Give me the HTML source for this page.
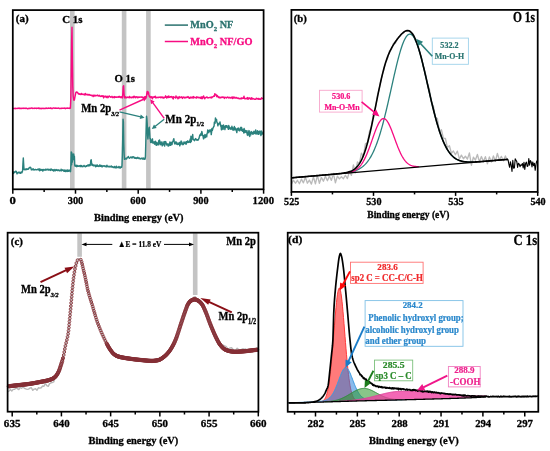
<!DOCTYPE html>
<html><head><meta charset="utf-8"><style>
html,body{margin:0;padding:0;background:#fff;}
svg{display:block;}
text{font-family:"Liberation Serif","Times New Roman",serif;}
</style></head><body>
<svg width="550" height="451" viewBox="0 0 550 451">
<rect x="70.0" y="10.799999999999999" width="4.6" height="177.8" fill="#c4c4c4"/>
<rect x="121.8" y="10.799999999999999" width="4.6" height="177.8" fill="#c4c4c4"/>
<rect x="146.1" y="10.799999999999999" width="4.6" height="177.8" fill="#c4c4c4"/>
<path d="M12.80,108.75 L13.20,108.37 L13.60,108.39 L14.00,108.43 L14.40,108.64 L14.80,108.39 L15.20,108.66 L15.60,108.22 L16.00,108.35 L16.40,108.35 L16.80,108.53 L17.20,108.57 L17.60,108.11 L18.00,108.22 L18.40,108.44 L18.80,108.26 L19.20,108.10 L19.60,108.56 L20.00,108.46 L20.40,108.46 L20.80,108.28 L21.20,108.55 L21.60,108.32 L22.00,108.56 L22.40,108.20 L22.80,108.21 L23.20,108.40 L23.60,108.23 L24.00,108.48 L24.40,108.40 L24.80,108.19 L25.20,108.37 L25.60,108.29 L26.00,108.52 L26.40,108.23 L26.80,108.27 L27.20,108.56 L27.60,108.75 L28.00,108.70 L28.40,108.35 L28.80,108.38 L29.20,108.61 L29.60,108.31 L30.00,108.16 L30.40,108.36 L30.80,108.41 L31.20,108.18 L31.60,108.03 L32.00,108.07 L32.40,108.45 L32.80,108.19 L33.20,108.30 L33.60,108.36 L34.00,108.43 L34.40,108.26 L34.80,108.41 L35.20,108.16 L35.60,108.25 L36.00,108.13 L36.40,108.52 L36.80,108.31 L37.20,108.18 L37.60,108.24 L38.00,108.27 L38.40,108.43 L38.80,108.02 L39.20,108.12 L39.60,108.23 L40.00,108.76 L40.40,108.47 L40.80,108.28 L41.20,108.42 L41.60,108.67 L42.00,108.25 L42.40,108.23 L42.80,108.51 L43.20,108.38 L43.60,108.41 L44.00,108.20 L44.40,108.63 L44.80,108.60 L45.20,108.39 L45.60,108.41 L46.00,107.92 L46.40,108.40 L46.80,108.25 L47.20,108.36 L47.60,108.41 L48.00,108.22 L48.40,107.98 L48.80,108.35 L49.20,108.15 L49.60,108.22 L50.00,108.17 L50.40,108.22 L50.80,107.86 L51.20,108.50 L51.60,108.32 L52.00,108.48 L52.40,108.63 L52.80,108.28 L53.20,107.95 L53.60,108.12 L54.00,108.06 L54.40,108.18 L54.80,108.29 L55.20,107.91 L55.60,108.33 L56.00,108.00 L56.40,108.33 L56.80,108.25 L57.20,108.21 L57.60,108.26 L58.00,108.17 L58.40,108.16 L58.80,107.96 L59.20,108.26 L59.60,108.60 L60.00,108.62 L60.40,108.50 L60.80,108.39 L61.20,108.14 L61.60,108.52 L62.00,108.25 L62.40,108.24 L62.80,108.20 L63.20,108.27 L63.60,108.17 L64.00,108.23 L64.40,108.05 L64.80,108.17 L65.20,108.65 L65.60,108.22 L66.00,108.19 L66.40,108.33 L66.80,108.36 L67.20,108.03 L67.60,108.19 L68.00,108.39 L68.40,108.27 L68.80,108.24 L69.20,108.49 L69.60,108.09 L70.00,108.22 L70.40,108.10 L70.80,99.14 L71.20,75.10 L71.60,42.40 L72.00,27.29 L72.40,60.18 L72.80,86.62 L73.20,96.26 L73.60,99.01 L74.00,100.31 L74.40,99.98 L74.80,97.74 L75.20,95.59 L75.60,93.75 L76.00,92.24 L76.40,92.38 L76.80,91.91 L77.20,92.28 L77.60,92.73 L78.00,92.90 L78.40,93.95 L78.80,93.87 L79.20,93.84 L79.60,94.29 L80.00,94.16 L80.40,93.93 L80.80,94.47 L81.20,93.95 L81.60,93.41 L82.00,94.49 L82.40,94.18 L82.80,94.39 L83.20,94.32 L83.60,94.56 L84.00,94.36 L84.40,94.88 L84.80,94.61 L85.20,93.37 L85.60,94.71 L86.00,94.02 L86.40,94.60 L86.80,94.62 L87.20,94.87 L87.60,94.31 L88.00,94.51 L88.40,95.02 L88.80,94.56 L89.20,94.42 L89.60,95.05 L90.00,95.19 L90.40,95.00 L90.80,95.37 L91.20,95.13 L91.60,95.65 L92.00,95.18 L92.40,95.49 L92.80,95.93 L93.20,96.61 L93.60,95.21 L94.00,95.46 L94.40,95.34 L94.80,96.02 L95.20,95.28 L95.60,95.57 L96.00,95.79 L96.40,95.44 L96.80,95.48 L97.20,95.70 L97.60,95.08 L98.00,95.37 L98.40,95.81 L98.80,96.06 L99.20,95.95 L99.60,95.34 L100.00,95.89 L100.40,96.42 L100.80,96.35 L101.20,96.12 L101.60,95.83 L102.00,96.46 L102.40,96.00 L102.80,95.79 L103.20,95.96 L103.60,97.90 L104.00,96.42 L104.40,96.81 L104.80,96.18 L105.20,96.77 L105.60,96.18 L106.00,96.38 L106.40,97.46 L106.80,96.80 L107.20,96.31 L107.60,96.50 L108.00,97.66 L108.40,97.07 L108.80,96.41 L109.20,95.93 L109.60,96.54 L110.00,96.68 L110.40,96.74 L110.80,97.24 L111.20,96.87 L111.60,97.09 L112.00,96.35 L112.40,97.16 L112.80,97.68 L113.20,97.18 L113.60,97.00 L114.00,96.99 L114.40,97.67 L114.80,96.61 L115.20,96.96 L115.60,97.22 L116.00,97.36 L116.40,96.91 L116.80,97.23 L117.20,97.02 L117.60,97.20 L118.00,97.12 L118.40,96.74 L118.80,97.21 L119.20,96.36 L119.60,96.86 L120.00,97.16 L120.40,97.54 L120.80,96.85 L121.20,97.36 L121.60,96.87 L122.00,97.75 L122.40,97.99 L122.80,93.97 L123.20,86.72 L123.60,85.69 L124.00,93.21 L124.40,97.10 L124.80,97.92 L125.20,96.77 L125.60,97.72 L126.00,97.28 L126.40,97.86 L126.80,97.37 L127.20,97.03 L127.60,97.41 L128.00,97.59 L128.40,97.31 L128.80,97.49 L129.20,97.09 L129.60,96.44 L130.00,97.65 L130.40,97.57 L130.80,97.35 L131.20,97.31 L131.60,97.70 L132.00,97.10 L132.40,97.00 L132.80,97.20 L133.20,97.75 L133.60,96.72 L134.00,96.19 L134.40,97.01 L134.80,96.83 L135.20,97.77 L135.60,97.22 L136.00,96.74 L136.40,97.11 L136.80,96.76 L137.20,97.72 L137.60,97.07 L138.00,97.40 L138.40,97.52 L138.80,96.97 L139.20,97.37 L139.60,97.21 L140.00,97.00 L140.40,97.02 L140.80,97.23 L141.20,97.21 L141.60,96.97 L142.00,97.02 L142.40,97.62 L142.80,97.25 L143.20,97.49 L143.60,97.59 L144.00,97.31 L144.40,97.94 L144.80,96.65 L145.20,97.24 L145.60,96.71 L146.00,97.42 L146.40,96.68 L146.80,93.71 L147.20,91.57 L147.60,91.53 L148.00,93.91 L148.40,92.09 L148.80,94.42 L149.20,96.06 L149.60,96.86 L150.00,97.01 L150.40,97.70 L150.80,96.40 L151.20,97.55 L151.60,96.89 L152.00,97.68 L152.40,98.77 L152.80,96.94 L153.20,97.45 L153.60,96.94 L154.00,96.93 L154.40,96.67 L154.80,97.29 L155.20,96.19 L155.60,97.71 L156.00,97.24 L156.40,97.72 L156.80,97.31 L157.20,97.26 L157.60,97.53 L158.00,97.72 L158.40,97.16 L158.80,97.20 L159.20,97.24 L159.60,97.33 L160.00,96.94 L160.40,97.71 L160.80,97.14 L161.20,97.48 L161.60,96.97 L162.00,97.44 L162.40,97.46 L162.80,97.13 L163.20,98.11 L163.60,97.45 L164.00,98.01 L164.40,97.68 L164.80,97.04 L165.20,97.15 L165.60,95.86 L166.00,97.33 L166.40,97.32 L166.80,98.05 L167.20,96.58 L167.60,97.21 L168.00,96.42 L168.40,97.46 L168.80,96.03 L169.20,97.03 L169.60,97.23 L170.00,97.43 L170.40,96.75 L170.80,96.62 L171.20,96.90 L171.60,96.51 L172.00,96.94 L172.40,97.97 L172.80,96.92 L173.20,98.92 L173.60,96.80 L174.00,97.47 L174.40,97.23 L174.80,97.33 L175.20,97.59 L175.60,98.07 L176.00,95.87 L176.40,97.42 L176.80,96.99 L177.20,97.62 L177.60,97.29 L178.00,98.77 L178.40,97.38 L178.80,98.10 L179.20,96.61 L179.60,97.29 L180.00,97.77 L180.40,97.28 L180.80,97.11 L181.20,97.33 L181.60,96.89 L182.00,97.49 L182.40,98.42 L182.80,97.91 L183.20,97.02 L183.60,97.11 L184.00,97.31 L184.40,97.88 L184.80,97.15 L185.20,97.21 L185.60,97.84 L186.00,97.84 L186.40,97.35 L186.80,97.06 L187.20,96.89 L187.60,97.23 L188.00,96.63 L188.40,97.82 L188.80,97.28 L189.20,97.72 L189.60,98.28 L190.00,98.01 L190.40,97.08 L190.80,97.90 L191.20,98.02 L191.60,97.26 L192.00,97.18 L192.40,97.52 L192.80,96.93 L193.20,98.16 L193.60,96.61 L194.00,97.13 L194.40,97.47 L194.80,97.49 L195.20,97.65 L195.60,97.70 L196.00,97.50 L196.40,98.05 L196.80,96.74 L197.20,97.59 L197.60,97.31 L198.00,97.65 L198.40,97.69 L198.80,97.23 L199.20,97.34 L199.60,97.92 L200.00,97.74 L200.40,97.33 L200.80,98.42 L201.20,98.52 L201.60,97.01 L202.00,96.84 L202.40,98.60 L202.80,97.91 L203.20,97.68 L203.60,95.99 L204.00,97.37 L204.40,97.50 L204.80,98.71 L205.20,97.87 L205.60,97.41 L206.00,97.39 L206.40,97.07 L206.80,97.53 L207.20,97.18 L207.60,97.46 L208.00,97.94 L208.40,97.66 L208.80,97.71 L209.20,97.64 L209.60,97.51 L210.00,97.42 L210.40,97.34 L210.80,97.75 L211.20,97.00 L211.60,97.95 L212.00,97.41 L212.40,97.00 L212.80,96.86 L213.20,96.45 L213.60,96.41 L214.00,95.69 L214.40,96.12 L214.80,93.81 L215.20,94.21 L215.60,94.71 L216.00,94.45 L216.40,95.78 L216.80,96.70 L217.20,95.54 L217.60,96.03 L218.00,96.36 L218.40,97.47 L218.80,96.97 L219.20,96.92 L219.60,97.41 L220.00,98.03 L220.40,97.62 L220.80,97.21 L221.20,97.35 L221.60,97.49 L222.00,97.04 L222.40,96.90 L222.80,97.37 L223.20,97.00 L223.60,97.39 L224.00,97.48 L224.40,98.40 L224.80,97.15 L225.20,97.46 L225.60,97.47 L226.00,97.74 L226.40,98.00 L226.80,97.41 L227.20,97.31 L227.60,97.00 L228.00,97.31 L228.40,97.92 L228.80,97.75 L229.20,97.35 L229.60,97.63 L230.00,97.81 L230.40,98.02 L230.80,97.60 L231.20,97.76 L231.60,97.16 L232.00,97.45 L232.40,98.57 L232.80,97.07 L233.20,97.83 L233.60,98.08 L234.00,96.88 L234.40,97.71 L234.80,98.03 L235.20,98.07 L235.60,98.06 L236.00,97.36 L236.40,98.07 L236.80,97.80 L237.20,97.95 L237.60,98.27 L238.00,98.46 L238.40,98.58 L238.80,98.04 L239.20,98.62 L239.60,98.74 L240.00,98.74 L240.40,98.86 L240.80,98.26 L241.20,98.27 L241.60,98.68 L242.00,97.82 L242.40,98.47 L242.80,98.19 L243.20,98.27 L243.60,97.73 L244.00,96.32 L244.40,98.45 L244.80,98.83 L245.20,98.88 L245.60,98.46 L246.00,98.43 L246.40,98.19 L246.80,98.70 L247.20,98.45 L247.60,97.59 L248.00,99.27 L248.40,98.57 L248.80,97.99 L249.20,98.26 L249.60,98.03 L250.00,98.15 L250.40,99.16 L250.80,98.74 L251.20,98.05 L251.60,97.78 L252.00,99.18 L252.40,98.54 L252.80,98.42 L253.20,98.56 L253.60,98.82 L254.00,98.97 L254.40,99.19 L254.80,99.21 L255.20,99.21 L255.60,99.28 L256.00,99.01 L256.40,98.14 L256.80,98.70 L257.20,98.89 L257.60,98.61 L258.00,99.13 L258.40,98.63 L258.80,98.41 L259.20,99.36 L259.60,99.05 L260.00,98.88 L260.40,99.16 L260.80,99.22 L261.20,98.93 L261.60,97.81 L262.00,98.53 L262.40,98.62 L262.80,98.41 L263.20,98.88" fill="none" stroke="#f70c82" stroke-width="1.45" stroke-linejoin="round" />
<path d="M12.80,172.99 L13.15,173.52 L13.50,172.99 L13.85,171.86 L14.20,172.66 L14.55,172.53 L14.90,171.68 L15.25,171.61 L15.60,171.19 L15.95,172.00 L16.30,171.44 L16.65,172.57 L17.00,173.88 L17.35,172.99 L17.70,173.10 L18.05,172.72 L18.40,172.16 L18.75,172.60 L19.10,172.78 L19.45,172.17 L19.80,172.84 L20.15,173.31 L20.50,173.30 L20.85,172.16 L21.20,172.46 L21.55,172.08 L21.90,172.86 L22.25,171.88 L22.60,170.82 L22.95,163.84 L23.30,158.08 L23.65,164.07 L24.00,169.55 L24.35,169.15 L24.70,169.63 L25.05,169.87 L25.40,169.70 L25.75,169.13 L26.10,168.65 L26.45,169.45 L26.80,169.57 L27.15,169.27 L27.50,169.06 L27.85,168.80 L28.20,169.27 L28.55,168.75 L28.90,168.52 L29.25,167.62 L29.60,167.41 L29.95,167.58 L30.30,167.22 L30.65,167.60 L31.00,168.59 L31.35,169.68 L31.70,169.31 L32.05,169.92 L32.40,169.24 L32.75,169.19 L33.10,168.73 L33.45,169.13 L33.80,170.06 L34.15,169.59 L34.50,169.79 L34.85,169.80 L35.20,169.50 L35.55,169.43 L35.90,169.59 L36.25,169.86 L36.60,169.78 L36.95,169.81 L37.30,169.67 L37.65,169.26 L38.00,169.50 L38.35,169.21 L38.70,170.09 L39.05,168.70 L39.40,169.56 L39.75,170.74 L40.10,169.52 L40.45,169.17 L40.80,169.68 L41.15,170.28 L41.50,169.63 L41.85,169.99 L42.20,169.76 L42.55,169.56 L42.90,171.15 L43.25,169.78 L43.60,169.51 L43.95,169.54 L44.30,169.95 L44.65,169.97 L45.00,170.15 L45.35,169.88 L45.70,169.18 L46.05,170.08 L46.40,169.71 L46.75,169.74 L47.10,169.21 L47.45,169.63 L47.80,169.57 L48.15,169.90 L48.50,169.27 L48.85,169.96 L49.20,170.00 L49.55,169.46 L49.90,169.69 L50.25,169.60 L50.60,170.40 L50.95,168.87 L51.30,169.86 L51.65,169.28 L52.00,169.84 L52.35,170.43 L52.70,169.78 L53.05,170.13 L53.40,169.70 L53.75,170.97 L54.10,170.52 L54.45,170.62 L54.80,169.53 L55.15,169.64 L55.50,170.64 L55.85,170.07 L56.20,170.06 L56.55,170.33 L56.90,169.63 L57.25,170.55 L57.60,170.23 L57.95,170.45 L58.30,169.94 L58.65,170.48 L59.00,169.95 L59.35,170.71 L59.70,170.80 L60.05,170.71 L60.40,170.55 L60.75,170.61 L61.10,169.13 L61.45,170.73 L61.80,170.25 L62.15,170.43 L62.50,170.28 L62.85,169.80 L63.20,170.20 L63.55,170.76 L63.90,171.12 L64.25,170.22 L64.60,170.11 L64.95,171.18 L65.30,170.15 L65.65,171.50 L66.00,170.60 L66.35,170.20 L66.70,171.05 L67.05,171.39 L67.40,169.99 L67.75,171.35 L68.10,170.53 L68.45,171.34 L68.80,170.51 L69.15,169.98 L69.50,170.92 L69.85,171.11 L70.20,171.64 L70.55,171.48 L70.90,164.71 L71.25,151.87 L71.60,164.77 L71.95,152.90 L72.30,162.13 L72.65,158.13 L73.00,154.71 L73.35,159.56 L73.70,153.99 L74.05,159.07 L74.40,156.34 L74.75,165.35 L75.10,166.25 L75.45,165.45 L75.80,165.73 L76.15,165.16 L76.50,166.65 L76.85,166.27 L77.20,165.47 L77.55,165.97 L77.90,166.43 L78.25,166.22 L78.60,166.17 L78.95,165.61 L79.30,165.71 L79.65,166.04 L80.00,166.41 L80.35,165.62 L80.70,165.48 L81.05,166.50 L81.40,165.56 L81.75,166.45 L82.10,166.07 L82.45,166.35 L82.80,166.73 L83.15,166.24 L83.50,166.26 L83.85,165.49 L84.20,165.57 L84.55,166.15 L84.90,166.53 L85.25,166.44 L85.60,166.83 L85.95,165.90 L86.30,165.83 L86.65,166.15 L87.00,165.68 L87.35,165.60 L87.70,165.12 L88.05,165.99 L88.40,165.02 L88.75,165.68 L89.10,164.76 L89.45,165.84 L89.80,164.83 L90.15,165.61 L90.50,163.50 L90.85,160.23 L91.20,159.87 L91.55,163.01 L91.90,165.25 L92.25,165.08 L92.60,164.33 L92.95,165.57 L93.30,165.69 L93.65,165.05 L94.00,165.86 L94.35,165.30 L94.70,165.25 L95.05,165.75 L95.40,165.47 L95.75,166.85 L96.10,165.15 L96.45,166.21 L96.80,166.35 L97.15,165.04 L97.50,165.18 L97.85,166.23 L98.20,165.78 L98.55,166.19 L98.90,166.54 L99.25,165.88 L99.60,165.58 L99.95,164.84 L100.30,166.17 L100.65,165.68 L101.00,166.25 L101.35,166.22 L101.70,165.50 L102.05,166.91 L102.40,166.64 L102.75,166.54 L103.10,165.64 L103.45,166.01 L103.80,165.96 L104.15,166.03 L104.50,165.73 L104.85,166.45 L105.20,166.38 L105.55,166.47 L105.90,166.10 L106.25,166.93 L106.60,166.46 L106.95,165.17 L107.30,166.15 L107.65,166.44 L108.00,166.92 L108.35,166.38 L108.70,166.43 L109.05,166.28 L109.40,166.90 L109.75,166.43 L110.10,166.39 L110.45,166.35 L110.80,166.97 L111.15,166.51 L111.50,166.02 L111.85,167.08 L112.20,166.51 L112.55,167.02 L112.90,167.05 L113.25,167.45 L113.60,167.41 L113.95,166.71 L114.30,166.91 L114.65,166.43 L115.00,167.79 L115.35,167.26 L115.70,167.71 L116.05,166.96 L116.40,166.20 L116.75,167.84 L117.10,167.21 L117.45,167.24 L117.80,167.23 L118.15,167.51 L118.50,167.47 L118.85,166.53 L119.20,167.75 L119.55,167.03 L119.90,167.07 L120.25,168.06 L120.60,167.70 L120.95,167.14 L121.30,166.46 L121.65,167.37 L122.00,165.44 L122.35,155.03 L122.70,139.45 L123.05,119.19 L123.40,121.98 L123.75,143.34 L124.10,153.67 L124.45,159.35 L124.80,158.64 L125.15,158.97 L125.50,158.94 L125.85,158.26 L126.20,158.19 L126.55,158.97 L126.90,157.87 L127.25,157.98 L127.60,157.22 L127.95,157.34 L128.30,156.53 L128.65,157.29 L129.00,157.84 L129.35,158.26 L129.70,157.86 L130.05,157.65 L130.40,157.38 L130.75,157.10 L131.10,157.32 L131.45,157.69 L131.80,157.08 L132.15,157.88 L132.50,157.05 L132.85,156.72 L133.20,157.09 L133.55,156.83 L133.90,156.99 L134.25,158.15 L134.60,157.59 L134.95,157.81 L135.30,158.27 L135.65,158.35 L136.00,157.59 L136.35,158.46 L136.70,158.07 L137.05,157.93 L137.40,158.17 L137.75,157.36 L138.10,157.69 L138.45,158.03 L138.80,158.39 L139.15,157.98 L139.50,158.12 L139.85,158.65 L140.20,158.88 L140.55,158.62 L140.90,158.87 L141.25,158.15 L141.60,158.22 L141.95,158.52 L142.30,158.27 L142.65,158.19 L143.00,159.18 L143.35,158.37 L143.70,158.04 L144.05,158.70 L144.40,159.32 L144.75,158.53 L145.10,159.06 L145.45,156.35 L145.80,142.79 L146.15,128.75 L146.50,116.22 L146.85,118.36 L147.20,123.21 L147.55,135.32 L147.90,138.99 L148.25,135.14 L148.60,131.61 L148.95,127.97 L149.30,127.21 L149.65,132.84 L150.00,138.71 L150.35,138.58 L150.70,142.44 L151.05,140.35 L151.40,141.07 L151.75,140.08 L152.10,142.63 L152.45,138.85 L152.80,142.98 L153.15,141.95 L153.50,142.97 L153.85,141.90 L154.20,142.24 L154.55,144.16 L154.90,142.01 L155.25,141.27 L155.60,143.56 L155.95,144.56 L156.30,145.35 L156.65,142.33 L157.00,142.52 L157.35,144.26 L157.70,144.50 L158.05,144.94 L158.40,144.80 L158.75,140.68 L159.10,143.32 L159.45,140.08 L159.80,141.19 L160.15,144.75 L160.50,142.18 L160.85,144.56 L161.20,142.34 L161.55,142.82 L161.90,141.91 L162.25,145.82 L162.60,143.79 L162.95,143.99 L163.30,143.09 L163.65,144.85 L164.00,141.70 L164.35,143.85 L164.70,146.05 L165.05,141.48 L165.40,143.90 L165.75,141.64 L166.10,143.13 L166.45,143.99 L166.80,144.96 L167.15,144.23 L167.50,144.45 L167.85,143.78 L168.20,146.09 L168.55,144.30 L168.90,145.75 L169.25,145.08 L169.60,144.16 L169.95,141.99 L170.30,145.19 L170.65,145.25 L171.00,143.58 L171.35,142.39 L171.70,142.94 L172.05,144.51 L172.40,141.87 L172.75,141.68 L173.10,141.28 L173.45,139.70 L173.80,138.69 L174.15,141.14 L174.50,143.16 L174.85,144.01 L175.20,143.75 L175.55,142.84 L175.90,141.75 L176.25,142.52 L176.60,144.02 L176.95,142.81 L177.30,144.47 L177.65,143.96 L178.00,143.89 L178.35,144.25 L178.70,144.09 L179.05,142.72 L179.40,143.24 L179.75,145.89 L180.10,142.32 L180.45,143.03 L180.80,144.55 L181.15,141.08 L181.50,142.61 L181.85,142.06 L182.20,143.88 L182.55,144.32 L182.90,144.66 L183.25,143.27 L183.60,144.21 L183.95,142.08 L184.30,143.22 L184.65,142.32 L185.00,143.10 L185.35,143.61 L185.70,143.86 L186.05,141.73 L186.40,143.91 L186.75,142.09 L187.10,141.46 L187.45,142.23 L187.80,140.85 L188.15,142.23 L188.50,142.42 L188.85,141.79 L189.20,142.25 L189.55,141.03 L189.90,140.91 L190.25,139.00 L190.60,142.51 L190.95,136.15 L191.30,141.40 L191.65,138.95 L192.00,139.19 L192.35,137.37 L192.70,134.59 L193.05,138.80 L193.40,139.64 L193.75,139.60 L194.10,140.21 L194.45,140.70 L194.80,139.98 L195.15,139.55 L195.50,138.62 L195.85,138.78 L196.20,139.32 L196.55,140.11 L196.90,140.10 L197.25,139.90 L197.60,139.71 L197.95,140.27 L198.30,139.46 L198.65,139.02 L199.00,138.40 L199.35,136.84 L199.70,135.61 L200.05,134.71 L200.40,135.60 L200.75,134.26 L201.10,133.13 L201.45,134.96 L201.80,131.54 L202.15,132.97 L202.50,135.29 L202.85,135.39 L203.20,137.01 L203.55,138.83 L203.90,135.49 L204.25,137.82 L204.60,137.78 L204.95,134.60 L205.30,137.56 L205.65,135.90 L206.00,134.96 L206.35,134.75 L206.70,136.88 L207.05,133.49 L207.40,133.16 L207.75,129.91 L208.10,132.73 L208.45,130.73 L208.80,132.52 L209.15,130.75 L209.50,130.14 L209.85,131.19 L210.20,129.86 L210.55,131.52 L210.90,130.20 L211.25,134.58 L211.60,131.91 L211.95,128.40 L212.30,130.56 L212.65,129.36 L213.00,127.99 L213.35,127.61 L213.70,126.52 L214.05,126.19 L214.40,122.17 L214.75,123.55 L215.10,123.20 L215.45,118.00 L215.80,119.89 L216.15,119.56 L216.50,119.40 L216.85,122.20 L217.20,122.72 L217.55,123.59 L217.90,125.86 L218.25,124.37 L218.60,124.39 L218.95,123.41 L219.30,123.20 L219.65,123.66 L220.00,121.90 L220.35,124.59 L220.70,126.12 L221.05,125.26 L221.40,129.71 L221.75,129.73 L222.10,126.65 L222.45,125.58 L222.80,126.65 L223.15,129.21 L223.50,125.09 L223.85,126.56 L224.20,126.97 L224.55,126.52 L224.90,129.64 L225.25,127.61 L225.60,125.62 L225.95,126.61 L226.30,125.70 L226.65,127.17 L227.00,125.77 L227.35,127.62 L227.70,127.15 L228.05,127.80 L228.40,129.33 L228.75,125.52 L229.10,128.82 L229.45,126.97 L229.80,128.60 L230.15,127.74 L230.50,128.07 L230.85,129.31 L231.20,127.91 L231.55,129.06 L231.90,126.27 L232.25,128.72 L232.60,127.70 L232.95,130.12 L233.30,128.14 L233.65,128.57 L234.00,129.97 L234.35,126.56 L234.70,128.55 L235.05,127.88 L235.40,129.86 L235.75,128.36 L236.10,129.33 L236.45,131.19 L236.80,132.62 L237.15,130.15 L237.50,128.83 L237.85,129.37 L238.20,127.99 L238.55,129.80 L238.90,130.45 L239.25,129.13 L239.60,130.89 L239.95,130.14 L240.30,128.10 L240.65,128.66 L241.00,127.20 L241.35,130.24 L241.70,127.76 L242.05,130.34 L242.40,131.21 L242.75,130.11 L243.10,129.40 L243.45,129.51 L243.80,132.95 L244.15,128.56 L244.50,130.82 L244.85,132.54 L245.20,131.64 L245.55,130.40 L245.90,131.31 L246.25,132.25 L246.60,132.68 L246.95,130.65 L247.30,135.04 L247.65,134.61 L248.00,135.50 L248.35,133.27 L248.70,131.62 L249.05,130.59 L249.40,132.52 L249.75,136.46 L250.10,132.96 L250.45,132.57 L250.80,134.82 L251.15,131.44 L251.50,133.45 L251.85,132.04 L252.20,132.71 L252.55,132.81 L252.90,134.28 L253.25,133.65 L253.60,132.32 L253.95,131.29 L254.30,133.40 L254.65,132.49 L255.00,133.40 L255.35,131.93 L255.70,130.01 L256.05,134.10 L256.40,132.91 L256.75,133.74 L257.10,133.67 L257.45,130.73 L257.80,131.63 L258.15,134.20 L258.50,133.40 L258.85,134.24 L259.20,131.26 L259.55,131.64 L259.90,131.17 L260.25,132.45 L260.60,134.38 L260.95,135.52 L261.30,130.99 L261.65,133.51 L262.00,134.15 L262.35,133.09 L262.70,133.79 L263.05,133.54 L263.40,131.21" fill="none" stroke="#2b817d" stroke-width="1.45" stroke-linejoin="round" />
<rect x="12.8" y="10.1" width="250.8" height="179.20000000000002" fill="none" stroke="#000" stroke-width="1.75"/>
<line x1="12.80" y1="189.3" x2="12.80" y2="193.70000000000002" stroke="#000" stroke-width="1.5"/>
<text x="9.52" y="203.7" font-size="10.8" fill="#000" stroke="#000" stroke-width="0.3" font-weight="bold" textLength="6.37" lengthAdjust="spacingAndGlyphs" >0</text>
<line x1="44.15" y1="189.3" x2="44.15" y2="191.9" stroke="#000" stroke-width="1.5"/>
<line x1="75.50" y1="189.3" x2="75.50" y2="193.70000000000002" stroke="#000" stroke-width="1.5"/>
<text x="67.71" y="203.7" font-size="10.8" fill="#000" stroke="#000" stroke-width="0.3" font-weight="bold" textLength="15.58" lengthAdjust="spacingAndGlyphs" >300</text>
<line x1="106.85" y1="189.3" x2="106.85" y2="191.9" stroke="#000" stroke-width="1.5"/>
<line x1="138.20" y1="189.3" x2="138.20" y2="193.70000000000002" stroke="#000" stroke-width="1.5"/>
<text x="130.36" y="203.7" font-size="10.8" fill="#000" stroke="#000" stroke-width="0.3" font-weight="bold" textLength="15.58" lengthAdjust="spacingAndGlyphs" >600</text>
<line x1="169.55" y1="189.3" x2="169.55" y2="191.9" stroke="#000" stroke-width="1.5"/>
<line x1="200.90" y1="189.3" x2="200.90" y2="193.70000000000002" stroke="#000" stroke-width="1.5"/>
<text x="193.26" y="203.7" font-size="10.8" fill="#000" stroke="#000" stroke-width="0.3" font-weight="bold" textLength="15.33" lengthAdjust="spacingAndGlyphs" >900</text>
<line x1="232.25" y1="189.3" x2="232.25" y2="191.9" stroke="#000" stroke-width="1.5"/>
<line x1="263.60" y1="189.3" x2="263.60" y2="193.70000000000002" stroke="#000" stroke-width="1.5"/>
<text x="252.61" y="203.7" font-size="10.8" fill="#000" stroke="#000" stroke-width="0.3" font-weight="bold" textLength="21.43" lengthAdjust="spacingAndGlyphs" >1200</text>
<text x="94.09" y="221.2" font-size="10.5" fill="#000" stroke="#000" stroke-width="0.3" font-weight="bold" textLength="89.46" lengthAdjust="spacingAndGlyphs" >Binding energy (eV)</text>
<text x="15.76" y="22.0" font-size="10" fill="#000" stroke="#000" stroke-width="0.3" font-weight="bold" textLength="12.81" lengthAdjust="spacingAndGlyphs" >(a)</text>
<text x="62.20" y="23.2" font-size="11" fill="#000" stroke="#000" stroke-width="0.3" font-weight="bold" textLength="20.33" lengthAdjust="spacingAndGlyphs" >C 1s</text>
<text x="114.46" y="81.5" font-size="11" fill="#000" stroke="#000" stroke-width="0.3" font-weight="bold" textLength="20.58" lengthAdjust="spacingAndGlyphs" >O 1s</text>
<line x1="164.8" y1="25.1" x2="188.0" y2="25.1" stroke="#2a726e" stroke-width="1.5"/>
<line x1="164.8" y1="41.5" x2="188.0" y2="41.5" stroke="#f70c82" stroke-width="1.5"/>
<text x="190.30" y="28.3" font-size="10.5" fill="#2a726e" stroke="#2a726e" stroke-width="0.3" font-weight="bold" textLength="43.03" lengthAdjust="spacingAndGlyphs" >MnO<tspan font-size="7" dy="2.5">2</tspan><tspan dy="-2.5"> NF</tspan></text>
<text x="190.30" y="45.4" font-size="10.5" fill="#f70c82" stroke="#f70c82" stroke-width="0.3" font-weight="bold" textLength="62.24" lengthAdjust="spacingAndGlyphs" >MnO<tspan font-size="7" dy="2.5">2</tspan><tspan dy="-2.5"> NF/GO</tspan></text>
<text x="81.27" y="112.1" font-size="11.5" fill="#000" stroke="#000" stroke-width="0.3" font-weight="bold" textLength="37.62" lengthAdjust="spacingAndGlyphs" >Mn 2p<tspan font-size="6.4" font-style="italic" dy="4.0">3/2</tspan></text>
<text x="165.36" y="122.6" font-size="11.5" fill="#000" stroke="#000" stroke-width="0.3" font-weight="bold" textLength="38.73" lengthAdjust="spacingAndGlyphs" >Mn 2p<tspan font-size="6.4" dy="3.4">1/2</tspan></text>
<line x1="119.50" y1="110.20" x2="143.66" y2="99.25" stroke="#f70c82" stroke-width="1.4"/>
<polygon points="147.30,97.60 144.11,101.46 142.29,97.45" fill="#f70c82"/>
<line x1="119.50" y1="111.80" x2="140.71" y2="116.87" stroke="#2b817d" stroke-width="1.3"/>
<polygon points="144.60,117.80 139.71,118.89 140.73,114.61" fill="#2b817d"/>
<line x1="164.20" y1="118.30" x2="152.56" y2="102.43" stroke="#f70c82" stroke-width="1.4"/>
<polygon points="150.20,99.20 154.63,101.53 151.09,104.13" fill="#f70c82"/>
<line x1="164.20" y1="119.30" x2="154.95" y2="126.54" stroke="#2b817d" stroke-width="1.3"/>
<polygon points="151.80,129.00 153.99,124.49 156.70,127.96" fill="#2b817d"/>
<path d="M291.40,184.20 L293.40,180.23 L295.40,183.25 L297.40,180.27 L299.40,183.77 L301.40,179.16 L303.40,182.85 L305.40,177.17 L307.40,183.19 L309.40,180.18 L311.40,184.08 L313.40,176.87 L315.40,183.80 L317.40,175.38 L319.40,183.32 L321.40,177.33 L323.40,181.19 L325.40,176.15 L327.40,180.73 L329.40,176.11 L331.40,180.42 L333.40,173.32 L335.40,182.79 L337.40,176.11 L339.40,178.87 L341.40,176.75 L343.40,178.68 L345.40,175.23 L347.40,178.64 L349.40,171.52 L351.40,175.37 L353.40,164.83 L355.40,172.86 L357.40,162.02 L359.40,163.63 L361.40,153.22 L363.40,156.25 L365.40,143.97 L367.40,142.95 L369.40,131.79 L371.40,126.72 L373.40,114.06 L375.40,107.74 L377.40,95.55 L379.40,88.36 L381.40,78.08 L383.40,71.17 L385.40,62.63 L387.40,58.90 L389.40,51.06 L391.40,49.26 L393.40,43.36 L395.40,43.29 L397.40,38.63 L399.40,37.00 L401.40,33.91 L403.40,33.01 L405.40,30.73 L407.40,31.01 L409.40,30.74 L411.40,33.54 L413.40,34.29 L415.40,40.51 L417.40,44.20 L419.40,51.36 L421.40,56.98 L423.40,66.51 L425.40,73.28 L427.40,83.18 L429.40,89.45 L431.40,102.15 L433.40,106.05 L435.40,117.40 L437.40,118.58 L439.40,131.61 L441.40,129.72 L443.40,138.42 L445.40,138.46 L447.40,147.56 L449.40,145.76 L451.40,153.24 L453.40,151.04 L455.40,154.70 L457.40,151.16 L459.40,158.94 L461.40,155.11 L463.40,158.75 L465.40,156.24 L467.40,159.10 L469.40,152.97 L471.40,165.23 L473.40,157.22 L475.40,160.10 L477.40,154.48 L479.40,161.75 L481.40,156.53 L483.40,161.52 L485.40,156.68 L487.40,163.72 L489.40,156.88 L491.40,161.96 L493.40,155.96 L495.40,161.28 L497.40,153.42 L499.40,160.11 L501.40,156.44 L503.40,160.82 L505.40,155.99 L507.40,161.11" fill="none" stroke="#bababa" stroke-width="1.35" stroke-linejoin="round" />
<path d="M344.90,172.97 L345.40,172.90 L345.90,172.82 L346.40,172.75 L346.90,172.67 L347.40,172.59 L347.90,172.51 L348.40,172.42 L348.90,172.33 L349.40,172.23 L349.90,172.13 L350.40,172.03 L350.90,171.91 L351.40,171.80 L351.90,171.68 L352.40,171.55 L352.90,171.41 L353.40,171.27 L353.90,171.12 L354.40,170.97 L354.90,170.80 L355.40,170.62 L355.90,170.44 L356.40,170.24 L356.90,170.04 L357.40,169.82 L357.90,169.59 L358.40,169.34 L358.90,169.09 L359.40,168.81 L359.90,168.53 L360.40,168.22 L360.90,167.90 L361.40,167.57 L361.90,167.21 L362.40,166.83 L362.90,166.44 L363.40,166.02 L363.90,165.58 L364.40,165.12 L364.90,164.63 L365.40,164.12 L365.90,163.58 L366.40,163.02 L366.90,162.43 L367.40,161.80 L367.90,161.15 L368.40,160.47 L368.90,159.75 L369.40,159.01 L369.90,158.22 L370.40,157.41 L370.90,156.55 L371.40,155.66 L371.90,154.74 L372.40,153.77 L372.90,152.76 L373.40,151.72 L373.90,150.63 L374.40,149.50 L374.90,148.33 L375.40,147.12 L375.90,145.87 L376.40,144.57 L376.90,143.23 L377.40,141.84 L377.90,140.41 L378.40,138.94 L378.90,137.42 L379.40,135.86 L379.90,134.25 L380.40,132.60 L380.90,130.91 L381.40,129.18 L381.90,127.41 L382.40,125.59 L382.90,123.74 L383.40,121.84 L383.90,119.92 L384.40,117.95 L384.90,115.95 L385.40,113.92 L385.90,111.86 L386.40,109.77 L386.90,107.65 L387.40,105.51 L387.90,103.34 L388.40,101.16 L388.90,98.96 L389.40,96.74 L389.90,94.51 L390.40,92.28 L390.90,90.04 L391.40,87.79 L391.90,85.55 L392.40,83.31 L392.90,81.07 L393.40,78.85 L393.90,76.65 L394.40,74.46 L394.90,72.29 L395.40,70.15 L395.90,68.03 L396.40,65.95 L396.90,63.91 L397.40,61.90 L397.90,59.94 L398.40,58.03 L398.90,56.16 L399.40,54.35 L399.90,52.60 L400.40,50.91 L400.90,49.29 L401.40,47.73 L401.90,46.25 L402.40,44.83 L402.90,43.50 L403.40,42.24 L403.90,41.07 L404.40,39.98 L404.90,38.98 L405.40,38.07 L405.90,37.24 L406.40,36.51 L406.90,35.88 L407.40,35.34 L407.90,34.89 L408.40,34.54 L408.90,34.29 L409.40,34.14 L409.90,34.09 L410.40,34.14 L410.90,34.29 L411.40,34.55 L411.90,34.91 L412.40,35.36 L412.90,35.92 L413.40,36.58 L413.90,37.33 L414.40,38.18 L414.90,39.12 L415.40,40.15 L415.90,41.26 L416.40,42.47 L416.90,43.76 L417.40,45.12 L417.90,46.57 L418.40,48.08 L418.90,49.67 L419.40,51.33 L419.90,53.04 L420.40,54.82 L420.90,56.66 L421.40,58.54 L421.90,60.47 L422.40,62.45 L422.90,64.47 L423.40,66.53 L423.90,68.61 L424.40,70.73 L424.90,72.87 L425.40,75.03 L425.90,77.21 L426.40,79.40 L426.90,81.60 L427.40,83.80 L427.90,86.01 L428.40,88.22 L428.90,90.42 L429.40,92.61 L429.90,94.80 L430.40,96.97 L430.90,99.12 L431.40,101.25 L431.90,103.36 L432.40,105.44 L432.90,107.50 L433.40,109.52 L433.90,111.52 L434.40,113.48 L434.90,115.40 L435.40,117.29 L435.90,119.14 L436.40,120.95 L436.90,122.72 L437.40,124.45 L437.90,126.13 L438.40,127.77 L438.90,129.37 L439.40,130.91 L439.90,132.42 L440.40,133.88 L440.90,135.29 L441.40,136.66 L441.90,137.98 L442.40,139.25 L442.90,140.48 L443.40,141.66 L443.90,142.80 L444.40,143.90 L444.90,144.95 L445.40,145.96 L445.90,146.92 L446.40,147.85 L446.90,148.73 L447.40,149.58 L447.90,150.38 L448.40,151.15 L448.90,151.88 L449.40,152.57 L449.90,153.23 L450.40,153.86 L450.90,154.45 L451.40,155.01 L451.90,155.54 L452.40,156.04 L452.90,156.51 L453.40,156.95 L453.90,157.37 L454.40,157.76 L454.90,158.13 L455.40,158.47 L455.90,158.79 L456.40,159.09 L456.90,159.37 L457.40,159.63 L457.90,159.88 L458.40,160.10 L458.90,160.31 L459.40,160.50 L459.90,160.68 L460.40,160.84 L460.90,160.99 L461.40,161.12 L461.90,161.25 L462.40,161.36 L462.90,161.46 L463.40,161.55 L463.90,161.63 L464.40,161.71 L464.90,161.77 L465.40,161.83 L465.90,161.88 L466.40,161.92 L466.90,161.95 L467.40,161.98 L467.90,162.01 L468.40,162.03 L468.90,162.04 L469.40,162.05 L469.90,162.06 L470.40,162.06 L470.90,162.06 L471.40,162.05 L471.90,162.04 L472.40,162.03 L472.90,162.02 L473.40,162.00" fill="none" stroke="#2b817d" stroke-width="1.3" stroke-linejoin="round" />
<path d="M346.90,172.81 L347.40,172.73 L347.90,172.64 L348.40,172.55 L348.90,172.45 L349.40,172.34 L349.90,172.22 L350.40,172.10 L350.90,171.96 L351.40,171.81 L351.90,171.65 L352.40,171.48 L352.90,171.29 L353.40,171.09 L353.90,170.87 L354.40,170.63 L354.90,170.36 L355.40,170.08 L355.90,169.77 L356.40,169.44 L356.90,169.08 L357.40,168.70 L357.90,168.28 L358.40,167.83 L358.90,167.34 L359.40,166.82 L359.90,166.27 L360.40,165.67 L360.90,165.04 L361.40,164.36 L361.90,163.64 L362.40,162.88 L362.90,162.07 L363.40,161.22 L363.90,160.32 L364.40,159.38 L364.90,158.39 L365.40,157.36 L365.90,156.28 L366.40,155.16 L366.90,153.99 L367.40,152.79 L367.90,151.54 L368.40,150.27 L368.90,148.95 L369.40,147.61 L369.90,146.24 L370.40,144.85 L370.90,143.44 L371.40,142.02 L371.90,140.59 L372.40,139.15 L372.90,137.72 L373.40,136.30 L373.90,134.89 L374.40,133.50 L374.90,132.14 L375.40,130.80 L375.90,129.51 L376.40,128.26 L376.90,127.07 L377.40,125.93 L377.90,124.86 L378.40,123.85 L378.90,122.92 L379.40,122.06 L379.90,121.30 L380.40,120.61 L380.90,120.03 L381.40,119.53 L381.90,119.13 L382.40,118.84 L382.90,118.64 L383.40,118.55 L383.90,118.56 L384.40,118.67 L384.90,118.89 L385.40,119.22 L385.90,119.64 L386.40,120.17 L386.90,120.79 L387.40,121.49 L387.90,122.29 L388.40,123.16 L388.90,124.12 L389.40,125.14 L389.90,126.23 L390.40,127.37 L390.90,128.57 L391.40,129.81 L391.90,131.09 L392.40,132.40 L392.90,133.74 L393.40,135.09 L393.90,136.46 L394.40,137.83 L394.90,139.20 L395.40,140.57 L395.90,141.93 L396.40,143.27 L396.90,144.59 L397.40,145.88 L397.90,147.15 L398.40,148.38 L398.90,149.58 L399.40,150.73 L399.90,151.85 L400.40,152.92 L400.90,153.95 L401.40,154.93 L401.90,155.87 L402.40,156.76 L402.90,157.60 L403.40,158.40 L403.90,159.14 L404.40,159.84 L404.90,160.50 L405.40,161.11 L405.90,161.68 L406.40,162.21 L406.90,162.69 L407.40,163.14 L407.90,163.55 L408.40,163.93 L408.90,164.27 L409.40,164.58 L409.90,164.86 L410.40,165.11 L410.90,165.34 L411.40,165.54 L411.90,165.72 L412.40,165.88 L412.90,166.02 L413.40,166.14 L413.90,166.24 L414.40,166.33 L414.90,166.40 L415.40,166.47 L415.90,166.52 L416.40,166.56 L416.90,166.59 L417.40,166.61 L417.90,166.62 L418.40,166.63 L418.90,166.63" fill="none" stroke="#f70c82" stroke-width="1.3" stroke-linejoin="round" />
<path d="M291.40,177.81 L291.90,177.77 L292.40,177.72 L292.90,177.68 L293.40,177.64 L293.90,177.59 L294.40,177.55 L294.90,177.51 L295.40,177.47 L295.90,177.42 L296.40,177.38 L296.90,177.34 L297.40,177.30 L297.90,177.25 L298.40,177.21 L298.90,177.17 L299.40,177.12 L299.90,177.08 L300.40,177.04 L300.90,177.00 L301.40,176.95 L301.90,176.91 L302.40,176.87 L302.90,176.83 L303.40,176.78 L303.90,176.74 L304.40,176.70 L304.90,176.65 L305.40,176.61 L305.90,176.57 L306.40,176.53 L306.90,176.48 L307.40,176.44 L307.90,176.40 L308.40,176.36 L308.90,176.31 L309.40,176.27 L309.90,176.23 L310.40,176.18 L310.90,176.14 L311.40,176.10 L311.90,176.06 L312.40,176.01 L312.90,175.97 L313.40,175.93 L313.90,175.89 L314.40,175.84 L314.90,175.80 L315.40,175.76 L315.90,175.71 L316.40,175.67 L316.90,175.63 L317.40,175.59 L317.90,175.54 L318.40,175.50 L318.90,175.46 L319.40,175.42 L319.90,175.37 L320.40,175.33 L320.90,175.29 L321.40,175.24 L321.90,175.20 L322.40,175.16 L322.90,175.11 L323.40,175.07 L323.90,175.03 L324.40,174.99 L324.90,174.94 L325.40,174.90 L325.90,174.86 L326.40,174.81 L326.90,174.77 L327.40,174.73 L327.90,174.68 L328.40,174.64 L328.90,174.60 L329.40,174.55 L329.90,174.51 L330.40,174.46 L330.90,174.42 L331.40,174.37 L331.90,174.33 L332.40,174.28 L332.90,174.24 L333.40,174.19 L333.90,174.15 L334.40,174.10 L334.90,174.05 L335.40,174.00 L335.90,173.96 L336.40,173.91 L336.90,173.86 L337.40,173.81 L337.90,173.76 L338.40,173.70 L338.90,173.65 L339.40,173.59 L339.90,173.54 L340.40,173.48 L340.90,173.42 L341.40,173.35 L341.90,173.29 L342.40,173.22 L342.90,173.15 L343.40,173.08 L343.90,173.00 L344.40,172.91 L344.90,172.83 L345.40,172.73 L345.90,172.64 L346.40,172.53 L346.90,172.42 L347.40,172.30 L347.90,172.17 L348.40,172.03 L348.90,171.88 L349.40,171.72 L349.90,171.54 L350.40,171.36 L350.90,171.15 L351.40,170.93 L351.90,170.69 L352.40,170.43 L352.90,170.15 L353.40,169.85 L353.90,169.52 L354.40,169.17 L354.90,168.78 L355.40,168.36 L355.90,167.92 L356.40,167.43 L356.90,166.91 L357.40,166.34 L357.90,165.74 L358.40,165.09 L358.90,164.39 L359.40,163.64 L359.90,162.84 L360.40,161.98 L360.90,161.07 L361.40,160.10 L361.90,159.07 L362.40,157.97 L362.90,156.81 L363.40,155.59 L363.90,154.29 L364.40,152.93 L364.90,151.50 L365.40,149.99 L365.90,148.42 L366.40,146.78 L366.90,145.06 L367.40,143.28 L367.90,141.42 L368.40,139.51 L368.90,137.52 L369.40,135.47 L369.90,133.36 L370.40,131.20 L370.90,128.98 L371.40,126.71 L371.90,124.39 L372.40,122.04 L372.90,119.64 L373.40,117.22 L373.90,114.76 L374.40,112.29 L374.90,109.80 L375.40,107.30 L375.90,104.79 L376.40,102.29 L376.90,99.79 L377.40,97.31 L377.90,94.85 L378.40,92.41 L378.90,90.00 L379.40,87.63 L379.90,85.30 L380.40,83.02 L380.90,80.78 L381.40,78.59 L381.90,76.46 L382.40,74.40 L382.90,72.39 L383.40,70.44 L383.90,68.57 L384.40,66.76 L384.90,65.03 L385.40,63.36 L385.90,61.77 L386.40,60.24 L386.90,58.79 L387.40,57.39 L387.90,56.07 L388.40,54.80 L388.90,53.60 L389.40,52.45 L389.90,51.35 L390.40,50.30 L390.90,49.30 L391.40,48.34 L391.90,47.41 L392.40,46.53 L392.90,45.67 L393.40,44.85 L393.90,44.05 L394.40,43.28 L394.90,42.53 L395.40,41.80 L395.90,41.08 L396.40,40.38 L396.90,39.70 L397.40,39.03 L397.90,38.38 L398.40,37.74 L398.90,37.12 L399.40,36.51 L399.90,35.92 L400.40,35.34 L400.90,34.79 L401.40,34.26 L401.90,33.75 L402.40,33.27 L402.90,32.82 L403.40,32.40 L403.90,32.02 L404.40,31.67 L404.90,31.37 L405.40,31.11 L405.90,30.90 L406.40,30.74 L406.90,30.63 L407.40,30.58 L407.90,30.59 L408.40,30.66 L408.90,30.79 L409.40,31.00 L409.90,31.27 L410.40,31.61 L410.90,32.04 L411.40,32.54 L411.90,33.11 L412.40,33.77 L412.90,34.51 L413.40,35.33 L413.90,36.23 L414.40,37.21 L414.90,38.26 L415.40,39.40 L415.90,40.61 L416.40,41.90 L416.90,43.26 L417.40,44.69 L417.90,46.19 L418.40,47.76 L418.90,49.39 L419.40,51.08 L419.90,52.84 L420.40,54.64 L420.90,56.50 L421.40,58.41 L421.90,60.36 L422.40,62.36 L422.90,64.39 L423.40,66.46 L423.90,68.55 L424.40,70.68 L424.90,72.83 L425.40,74.99 L425.90,77.18 L426.40,79.37 L426.90,81.58 L427.40,83.79 L427.90,86.00 L428.40,88.21 L428.90,90.41 L429.40,92.61 L429.90,94.79 L430.40,96.96 L430.90,99.11 L431.40,101.24 L431.90,103.35 L432.40,105.44 L432.90,107.50 L433.40,109.52 L433.90,111.52 L434.40,113.48 L434.90,115.40 L435.40,117.29 L435.90,119.14 L436.40,120.95 L436.90,122.72 L437.40,124.45 L437.90,126.13 L438.40,127.77 L438.90,129.37 L439.40,130.91 L439.90,132.42 L440.40,133.88 L440.90,135.29 L441.40,136.66 L441.90,137.98 L442.40,139.25 L442.90,140.48 L443.40,141.66 L443.90,142.80 L444.40,143.90 L444.90,144.95 L445.40,145.96 L445.90,146.92 L446.40,147.85 L446.90,148.73 L447.40,149.58 L447.90,150.38 L448.40,151.15 L448.90,151.88 L449.40,152.57 L449.90,153.23 L450.40,153.86 L450.90,154.45 L451.40,155.01 L451.90,155.54 L452.40,156.04 L452.90,156.51 L453.40,156.95 L453.90,157.37 L454.40,157.76 L454.90,158.13 L455.40,158.47 L455.90,158.79 L456.40,159.09 L456.90,159.37 L457.40,159.63 L457.90,159.88 L458.40,160.10 L458.90,160.31 L459.40,160.50 L459.90,160.68 L460.40,160.84 L460.90,160.99 L461.40,161.12 L461.90,161.25 L462.40,161.36 L462.90,161.46 L463.40,161.55 L463.90,161.63 L464.40,161.71 L464.90,161.77 L465.40,161.83 L465.90,161.88 L466.40,161.92 L466.90,161.95 L467.40,161.98 L467.90,162.01 L468.40,162.03 L468.90,162.04 L469.40,162.05 L469.90,162.06 L470.40,162.06 L470.90,162.06 L471.40,162.05 L471.90,162.04 L472.40,162.03 L472.90,162.02 L473.40,162.00 L473.90,161.98 L474.40,161.96 L474.90,161.94 L475.40,161.91 L475.90,161.89 L476.40,161.86 L476.90,161.83 L477.40,161.80 L477.90,161.77 L478.40,161.74 L478.90,161.70 L479.40,161.67 L479.90,161.63 L480.40,161.60 L480.90,161.56 L481.40,161.53 L481.90,161.49 L482.40,161.45 L482.90,161.41 L483.40,161.37 L483.90,161.33 L484.40,161.29 L484.90,161.25 L485.40,161.21 L485.90,161.17 L486.40,161.13 L486.90,161.09 L487.40,161.05 L487.90,161.01 L488.40,160.97 L488.90,160.92 L489.40,160.88 L489.90,160.84 L490.40,160.80 L490.90,160.76 L491.40,160.71 L491.90,160.67 L492.40,160.63 L492.90,160.59 L493.40,160.54 L493.90,160.50 L494.40,160.46 L494.90,160.42 L495.40,160.38 L495.90,160.33 L496.40,160.29 L496.90,160.25 L497.40,160.20 L497.90,160.16 L498.40,160.12 L498.90,160.08 L499.40,160.03 L499.90,159.99 L500.40,159.95 L500.90,159.91 L501.40,159.86 L501.90,159.82 L502.40,159.78 L502.90,159.74 L503.40,159.69 L503.90,159.65 L504.40,159.61 L504.90,159.56 L505.40,159.52 L505.90,159.48 L506.40,159.44 L506.90,159.39 L507.40,159.35 L507.90,159.31" fill="none" stroke="#000" stroke-width="1.6" stroke-linejoin="round" />
<line x1="291.4" y1="177.81" x2="508" y2="159.30" stroke="#000" stroke-width="1.3"/>
<path d="M508.00,159.30 L508.80,163.88 L509.60,167.31 L510.40,161.70 L511.20,165.46 L512.00,171.44 L512.80,160.31 L513.60,168.23 L514.40,168.05 L515.20,158.89 L516.00,160.23 L516.80,161.60 L517.60,167.44 L518.40,163.24 L519.20,164.03 L520.00,166.65 L520.80,164.88 L521.60,165.21 L522.40,163.57 L523.20,167.90 L524.00,162.20 L524.80,169.55 L525.60,163.51 L526.40,162.13 L527.20,166.47 L528.00,165.88 L528.80,158.59 L529.60,165.19 L530.40,160.48 L531.20,162.04 L532.00,166.88 L532.80,161.94 L533.60,165.59 L534.40,163.38 L535.20,170.32 L536.00,164.23 L536.80,160.99 L537.60,161.20" fill="none" stroke="#000" stroke-width="1.1" stroke-linejoin="round" />
<rect x="291.4" y="9.9" width="246.30000000000007" height="182.0" fill="none" stroke="#000" stroke-width="1.75"/>
<line x1="291.40" y1="191.9" x2="291.40" y2="195.9" stroke="#000" stroke-width="1.5"/>
<text x="284.07" y="205.3" font-size="10.8" fill="#000" stroke="#000" stroke-width="0.3" font-weight="bold" textLength="15.26" lengthAdjust="spacingAndGlyphs" >525</text>
<line x1="332.45" y1="191.9" x2="332.45" y2="194.4" stroke="#000" stroke-width="1.5"/>
<line x1="373.50" y1="191.9" x2="373.50" y2="195.9" stroke="#000" stroke-width="1.5"/>
<text x="366.27" y="205.3" font-size="10.8" fill="#000" stroke="#000" stroke-width="0.3" font-weight="bold" textLength="15.26" lengthAdjust="spacingAndGlyphs" >530</text>
<line x1="414.55" y1="191.9" x2="414.55" y2="194.4" stroke="#000" stroke-width="1.5"/>
<line x1="455.60" y1="191.9" x2="455.60" y2="195.9" stroke="#000" stroke-width="1.5"/>
<text x="448.22" y="205.3" font-size="10.8" fill="#000" stroke="#000" stroke-width="0.3" font-weight="bold" textLength="15.51" lengthAdjust="spacingAndGlyphs" >535</text>
<line x1="496.65" y1="191.9" x2="496.65" y2="194.4" stroke="#000" stroke-width="1.5"/>
<line x1="537.70" y1="191.9" x2="537.70" y2="195.9" stroke="#000" stroke-width="1.5"/>
<text x="530.42" y="205.3" font-size="10.8" fill="#000" stroke="#000" stroke-width="0.3" font-weight="bold" textLength="15.26" lengthAdjust="spacingAndGlyphs" >540</text>
<text x="367.36" y="218.4" font-size="10" fill="#000" stroke="#000" stroke-width="0.3" font-weight="bold" textLength="81.98" lengthAdjust="spacingAndGlyphs" >Binding energy (eV)</text>
<text x="293.82" y="21.6" font-size="10" fill="#000" stroke="#000" stroke-width="0.3" font-weight="bold" textLength="13.05" lengthAdjust="spacingAndGlyphs" >(b)</text>
<text x="513.01" y="22.4" font-size="14" fill="#000" stroke="#000" stroke-width="0.3" font-weight="bold" textLength="22.09" lengthAdjust="spacingAndGlyphs" >O 1s</text>
<rect x="432.3" y="38.1" width="36.1" height="26.2" fill="#fff" stroke="#9ed2ea" stroke-width="0.9"/>
<text x="440.33" y="48.3" font-size="8.8" fill="#2a7571" stroke="#2a7571" stroke-width="0.22" font-weight="bold" textLength="18.23" lengthAdjust="spacingAndGlyphs" >532.2</text>
<text x="434.79" y="59.2" font-size="8.8" fill="#2a7571" stroke="#2a7571" stroke-width="0.22" font-weight="bold" textLength="29.32" lengthAdjust="spacingAndGlyphs" >Mn-O-H</text>
<line x1="432.30" y1="56.30" x2="420.43" y2="43.56" stroke="#2b817d" stroke-width="1.6"/>
<polygon points="416.00,38.80 423.11,41.74 418.43,46.10" fill="#2b817d"/>
<rect x="319.5" y="90.3" width="42.6" height="21.8" fill="#fff" stroke="#f7a6cc" stroke-width="0.9"/>
<text x="332.09" y="99.0" font-size="8.8" fill="#f70c82" stroke="#f70c82" stroke-width="0.22" font-weight="bold" textLength="18.23" lengthAdjust="spacingAndGlyphs" >530.6</text>
<text x="324.41" y="109.9" font-size="8.8" fill="#f70c82" stroke="#f70c82" stroke-width="0.22" font-weight="bold" textLength="35.31" lengthAdjust="spacingAndGlyphs" >Mn-O-Mn</text>
<line x1="361.60" y1="101.90" x2="374.46" y2="112.39" stroke="#f70c82" stroke-width="1.6"/>
<polygon points="379.50,116.50 372.05,114.56 376.10,109.60" fill="#f70c82"/>
<rect x="77.3" y="233.29999999999998" width="4.6" height="23.50000000000002" fill="#c4c4c4"/>
<rect x="192.89999999999998" y="233.29999999999998" width="4.6" height="61.70000000000001" fill="#c4c4c4"/>
<path d="M7.60,391.63 L9.00,391.14 L10.40,389.55 L11.80,391.00 L13.20,389.36 L14.60,389.21 L16.00,388.10 L17.40,388.57 L18.80,389.63 L20.20,387.39 L21.60,388.25 L23.00,387.02 L24.40,388.37 L25.80,388.94 L27.20,389.33 L28.60,389.10 L30.00,388.02 L31.40,387.79 L32.80,390.35 L34.20,389.06 L35.60,388.74 L37.00,390.26 L38.40,387.80 L39.80,388.14 L41.20,387.72 L42.60,386.03 L44.00,386.32 L45.40,383.38 L46.80,385.71 L48.20,386.33 L49.60,383.68 L51.00,382.80 L52.40,382.45 L53.80,381.86 L55.20,377.36 L56.60,375.43 L58.00,373.64 L59.40,370.02 L60.80,365.89 L62.20,361.35 L63.60,355.32 L65.00,347.66 L66.40,341.64 L67.80,335.74 L69.20,323.77 L70.60,308.69 L72.00,293.32 L73.40,279.62 L74.80,269.66 L76.20,263.87 L77.60,260.22 L79.00,258.55 L80.40,259.05 L81.80,262.28 L83.20,268.81 L84.60,274.76 L86.00,281.36 L87.40,287.85 L88.80,293.86 L90.20,298.26 L91.60,303.17 L93.00,307.85 L94.40,312.37 L95.80,317.38 L97.20,321.70 L98.60,325.29 L100.00,329.06 L101.40,332.60 L102.80,335.17 L104.20,338.25 L105.60,341.70 L107.00,344.54 L108.40,347.00 L109.80,348.66 L111.20,351.28 L112.60,352.74 L114.00,353.48 L115.40,354.06 L116.80,354.25 L118.20,355.36 L119.60,355.29 L121.00,355.84 L122.40,356.22 L123.80,356.34 L125.20,356.79 L126.60,357.89 L128.00,357.89 L129.40,358.41 L130.80,358.40 L132.20,359.32 L133.60,359.13 L135.00,359.48 L136.40,359.69 L137.80,360.24 L139.20,359.79 L140.60,359.82 L142.00,360.64 L143.40,360.46 L144.80,360.62 L146.20,360.11 L147.60,361.02 L149.00,360.67 L150.40,360.63 L151.80,360.52 L153.20,360.46 L154.60,359.73 L156.00,359.31 L157.40,359.29 L158.80,358.51 L160.20,357.36 L161.60,357.52 L163.00,356.31 L164.40,356.05 L165.80,355.14 L167.20,353.80 L168.60,351.64 L170.00,350.57 L171.40,347.98 L172.80,345.95 L174.20,343.62 L175.60,339.90 L177.00,336.52 L178.40,331.87 L179.80,327.42 L181.20,322.82 L182.60,319.14 L184.00,314.81 L185.40,310.93 L186.80,306.63 L188.20,303.42 L189.60,301.82 L191.00,301.32 L192.40,299.17 L193.80,297.23 L195.20,296.61 L196.60,299.58 L198.00,300.77 L199.40,301.38 L200.80,303.42 L202.20,304.41 L203.60,307.57 L205.00,310.45 L206.40,313.88 L207.80,317.21 L209.20,320.69 L210.60,325.09 L212.00,328.12 L213.40,331.28 L214.80,335.17 L216.20,337.42 L217.60,338.55 L219.00,341.29 L220.40,342.68 L221.80,346.09 L223.20,345.13 L224.60,345.85 L226.00,346.36 L227.40,348.28 L228.80,348.82 L230.20,347.94 L231.60,347.76 L233.00,349.28 L234.40,350.57 L235.80,349.94 L237.20,348.24 L238.60,349.48 L240.00,349.84 L241.40,349.46 L242.80,348.80 L244.20,349.18 L245.60,349.05 L247.00,350.73 L248.40,349.58 L249.80,350.51 L251.20,350.17 L252.60,351.65 L254.00,349.22 L255.40,350.73 L256.80,348.06 L258.20,347.81" fill="none" stroke="#b8b8b8" stroke-width="1.4" stroke-linejoin="round" />
<g fill="none" stroke="#852f36" stroke-width="0.9"><circle cx="8.80" cy="386.25" r="1.60"/><circle cx="9.22" cy="386.20" r="1.60"/><circle cx="9.64" cy="386.15" r="1.60"/><circle cx="10.06" cy="386.11" r="1.60"/><circle cx="10.48" cy="386.06" r="1.60"/><circle cx="10.90" cy="386.01" r="1.60"/><circle cx="11.32" cy="385.96" r="1.60"/><circle cx="11.74" cy="385.91" r="1.60"/><circle cx="12.16" cy="385.87" r="1.60"/><circle cx="12.58" cy="385.82" r="1.60"/><circle cx="13.00" cy="385.77" r="1.60"/><circle cx="13.42" cy="385.72" r="1.60"/><circle cx="13.84" cy="385.67" r="1.60"/><circle cx="14.26" cy="385.63" r="1.60"/><circle cx="14.68" cy="385.58" r="1.60"/><circle cx="15.10" cy="385.53" r="1.60"/><circle cx="15.52" cy="385.48" r="1.60"/><circle cx="15.94" cy="385.43" r="1.60"/><circle cx="16.36" cy="385.39" r="1.60"/><circle cx="16.78" cy="385.34" r="1.60"/><circle cx="17.20" cy="385.29" r="1.60"/><circle cx="17.62" cy="385.24" r="1.60"/><circle cx="18.04" cy="385.20" r="1.60"/><circle cx="18.46" cy="385.15" r="1.60"/><circle cx="18.88" cy="385.10" r="1.60"/><circle cx="19.30" cy="385.06" r="1.60"/><circle cx="19.72" cy="385.01" r="1.60"/><circle cx="20.14" cy="384.97" r="1.60"/><circle cx="20.56" cy="384.92" r="1.60"/><circle cx="20.98" cy="384.88" r="1.60"/><circle cx="21.40" cy="384.83" r="1.60"/><circle cx="21.82" cy="384.79" r="1.60"/><circle cx="22.24" cy="384.74" r="1.60"/><circle cx="22.66" cy="384.70" r="1.60"/><circle cx="23.08" cy="384.65" r="1.60"/><circle cx="23.50" cy="384.61" r="1.60"/><circle cx="23.92" cy="384.56" r="1.60"/><circle cx="24.34" cy="384.52" r="1.60"/><circle cx="24.76" cy="384.47" r="1.60"/><circle cx="25.18" cy="384.42" r="1.60"/><circle cx="25.60" cy="384.38" r="1.60"/><circle cx="26.02" cy="384.33" r="1.60"/><circle cx="26.44" cy="384.28" r="1.60"/><circle cx="26.86" cy="384.23" r="1.60"/><circle cx="27.28" cy="384.17" r="1.60"/><circle cx="27.70" cy="384.12" r="1.60"/><circle cx="28.12" cy="384.06" r="1.60"/><circle cx="28.54" cy="384.01" r="1.60"/><circle cx="28.96" cy="383.95" r="1.60"/><circle cx="29.38" cy="383.89" r="1.60"/><circle cx="29.80" cy="383.83" r="1.60"/><circle cx="30.22" cy="383.77" r="1.60"/><circle cx="30.64" cy="383.70" r="1.60"/><circle cx="31.06" cy="383.64" r="1.60"/><circle cx="31.48" cy="383.57" r="1.60"/><circle cx="31.90" cy="383.50" r="1.60"/><circle cx="32.32" cy="383.43" r="1.60"/><circle cx="32.74" cy="383.36" r="1.60"/><circle cx="33.16" cy="383.29" r="1.60"/><circle cx="33.58" cy="383.21" r="1.60"/><circle cx="34.00" cy="383.14" r="1.60"/><circle cx="34.42" cy="383.06" r="1.60"/><circle cx="34.84" cy="382.99" r="1.60"/><circle cx="35.26" cy="382.91" r="1.60"/><circle cx="35.68" cy="382.83" r="1.60"/><circle cx="36.10" cy="382.75" r="1.60"/><circle cx="36.52" cy="382.68" r="1.60"/><circle cx="36.94" cy="382.60" r="1.60"/><circle cx="37.36" cy="382.51" r="1.60"/><circle cx="37.78" cy="382.43" r="1.60"/><circle cx="38.20" cy="382.35" r="1.60"/><circle cx="38.62" cy="382.27" r="1.60"/><circle cx="39.04" cy="382.19" r="1.60"/><circle cx="39.46" cy="382.11" r="1.60"/><circle cx="39.88" cy="382.02" r="1.60"/><circle cx="40.30" cy="381.94" r="1.60"/><circle cx="40.72" cy="381.86" r="1.60"/><circle cx="41.14" cy="381.78" r="1.60"/><circle cx="41.56" cy="381.70" r="1.60"/><circle cx="41.98" cy="381.62" r="1.60"/><circle cx="42.40" cy="381.54" r="1.60"/><circle cx="42.82" cy="381.46" r="1.60"/><circle cx="43.24" cy="381.38" r="1.60"/><circle cx="43.66" cy="381.30" r="1.60"/><circle cx="44.08" cy="381.22" r="1.60"/><circle cx="44.50" cy="381.14" r="1.60"/><circle cx="44.92" cy="381.06" r="1.60"/><circle cx="45.34" cy="380.97" r="1.60"/><circle cx="45.76" cy="380.88" r="1.60"/><circle cx="46.18" cy="380.79" r="1.60"/><circle cx="46.60" cy="380.70" r="1.60"/><circle cx="47.02" cy="380.60" r="1.60"/><circle cx="47.44" cy="380.50" r="1.60"/><circle cx="47.86" cy="380.39" r="1.60"/><circle cx="48.28" cy="380.28" r="1.60"/><circle cx="48.70" cy="380.16" r="1.60"/><circle cx="49.12" cy="380.04" r="1.60"/><circle cx="49.54" cy="379.91" r="1.60"/><circle cx="49.96" cy="379.78" r="1.60"/><circle cx="50.38" cy="379.64" r="1.60"/><circle cx="50.80" cy="379.48" r="1.60"/><circle cx="51.22" cy="379.32" r="1.60"/><circle cx="51.64" cy="379.14" r="1.60"/><circle cx="52.06" cy="378.95" r="1.60"/><circle cx="52.48" cy="378.74" r="1.60"/><circle cx="52.90" cy="378.51" r="1.60"/><circle cx="53.32" cy="378.27" r="1.60"/><circle cx="53.74" cy="378.00" r="1.60"/><circle cx="54.16" cy="377.72" r="1.60"/><circle cx="54.58" cy="377.42" r="1.60"/><circle cx="55.00" cy="377.07" r="1.60"/><circle cx="55.42" cy="376.65" r="1.60"/><circle cx="55.84" cy="376.17" r="1.60"/><circle cx="56.26" cy="375.63" r="1.60"/><circle cx="56.68" cy="375.03" r="1.60"/><circle cx="57.10" cy="374.39" r="1.60"/><circle cx="57.52" cy="373.70" r="1.60"/><circle cx="57.94" cy="372.97" r="1.60"/><circle cx="58.36" cy="372.19" r="1.60"/><circle cx="58.78" cy="371.28" r="1.60"/><circle cx="59.20" cy="370.24" r="1.60"/><circle cx="59.62" cy="369.10" r="1.60"/><circle cx="60.04" cy="367.87" r="1.60"/><circle cx="60.46" cy="366.59" r="1.60"/><circle cx="60.88" cy="365.29" r="1.60"/><circle cx="61.30" cy="363.97" r="1.60"/><circle cx="61.72" cy="362.63" r="1.60"/><circle cx="62.14" cy="361.22" r="1.60"/><circle cx="62.56" cy="359.73" r="1.38"/><circle cx="62.98" cy="358.14" r="1.38"/><circle cx="63.00" cy="358.06" r="1.38"/><circle cx="63.71" cy="355.04" r="1.38"/><circle cx="64.29" cy="352.00" r="1.38"/><circle cx="64.84" cy="348.94" r="1.38"/><circle cx="65.42" cy="345.90" r="1.38"/><circle cx="66.12" cy="342.88" r="1.38"/><circle cx="66.88" cy="339.87" r="1.38"/><circle cx="67.55" cy="336.85" r="1.38"/><circle cx="68.11" cy="333.80" r="1.38"/><circle cx="68.53" cy="330.73" r="1.38"/><circle cx="68.87" cy="327.65" r="1.38"/><circle cx="69.17" cy="324.56" r="1.38"/><circle cx="69.45" cy="321.47" r="1.38"/><circle cx="69.73" cy="318.39" r="1.38"/><circle cx="70.02" cy="315.30" r="1.38"/><circle cx="70.31" cy="312.21" r="1.38"/><circle cx="70.59" cy="309.13" r="1.38"/><circle cx="70.86" cy="306.04" r="1.38"/><circle cx="71.13" cy="302.95" r="1.38"/><circle cx="71.41" cy="299.86" r="1.38"/><circle cx="71.68" cy="296.77" r="1.38"/><circle cx="71.95" cy="293.69" r="1.38"/><circle cx="72.23" cy="290.60" r="1.38"/><circle cx="72.53" cy="287.51" r="1.38"/><circle cx="72.83" cy="284.43" r="1.38"/><circle cx="73.16" cy="281.34" r="1.38"/><circle cx="73.52" cy="278.27" r="1.38"/><circle cx="73.96" cy="275.20" r="1.38"/><circle cx="74.43" cy="272.13" r="1.38"/><circle cx="74.98" cy="269.08" r="1.38"/><circle cx="75.63" cy="266.05" r="1.38"/><circle cx="76.39" cy="263.05" r="1.38"/><circle cx="77.53" cy="260.17" r="1.38"/><circle cx="80.77" cy="259.65" r="1.38"/><circle cx="81.60" cy="261.79" r="1.38"/><circle cx="82.12" cy="264.03" r="1.38"/><circle cx="82.62" cy="266.28" r="1.38"/><circle cx="83.16" cy="268.51" r="1.38"/><circle cx="83.70" cy="270.75" r="1.38"/><circle cx="84.23" cy="272.99" r="1.38"/><circle cx="84.75" cy="275.23" r="1.38"/><circle cx="85.25" cy="277.47" r="1.38"/><circle cx="85.72" cy="279.72" r="1.38"/><circle cx="86.16" cy="281.98" r="1.38"/><circle cx="86.59" cy="284.24" r="1.38"/><circle cx="87.04" cy="286.50" r="1.38"/><circle cx="87.51" cy="288.75" r="1.38"/><circle cx="88.05" cy="290.98" r="1.38"/><circle cx="88.63" cy="293.21" r="1.38"/><circle cx="89.27" cy="295.42" r="1.38"/><circle cx="89.93" cy="297.62" r="1.38"/><circle cx="90.62" cy="299.81" r="1.38"/><circle cx="91.32" cy="302.00" r="1.38"/><circle cx="92.01" cy="304.20" r="1.38"/><circle cx="92.67" cy="306.40" r="1.38"/><circle cx="93.30" cy="308.61" r="1.38"/><circle cx="93.93" cy="310.83" r="1.38"/><circle cx="94.56" cy="313.04" r="1.38"/><circle cx="95.19" cy="315.25" r="1.38"/><circle cx="95.85" cy="317.45" r="1.38"/><circle cx="96.54" cy="319.65" r="1.38"/><circle cx="97.29" cy="321.82" r="1.38"/><circle cx="98.07" cy="323.99" r="1.38"/><circle cx="98.88" cy="326.14" r="1.38"/><circle cx="99.73" cy="328.28" r="1.38"/><circle cx="100.60" cy="330.40" r="1.38"/><circle cx="101.50" cy="332.52" r="1.38"/><circle cx="102.44" cy="334.62" r="1.38"/><circle cx="103.40" cy="336.71" r="1.38"/><circle cx="104.37" cy="338.79" r="1.38"/><circle cx="105.37" cy="340.87" r="1.38"/><circle cx="106.40" cy="342.96" r="1.38"/><circle cx="106.82" cy="343.78" r="1.60"/><circle cx="107.24" cy="344.59" r="1.60"/><circle cx="107.66" cy="345.38" r="1.60"/><circle cx="108.08" cy="346.14" r="1.60"/><circle cx="108.50" cy="346.88" r="1.60"/><circle cx="108.92" cy="347.60" r="1.60"/><circle cx="109.34" cy="348.28" r="1.60"/><circle cx="109.76" cy="348.94" r="1.60"/><circle cx="110.18" cy="349.57" r="1.60"/><circle cx="110.60" cy="350.18" r="1.60"/><circle cx="111.02" cy="350.77" r="1.60"/><circle cx="111.44" cy="351.35" r="1.60"/><circle cx="111.86" cy="351.91" r="1.60"/><circle cx="112.28" cy="352.44" r="1.60"/><circle cx="112.70" cy="352.93" r="1.60"/><circle cx="113.12" cy="353.38" r="1.60"/><circle cx="113.54" cy="353.78" r="1.60"/><circle cx="113.96" cy="354.13" r="1.60"/><circle cx="114.38" cy="354.46" r="1.60"/><circle cx="114.80" cy="354.77" r="1.60"/><circle cx="115.22" cy="355.07" r="1.60"/><circle cx="115.64" cy="355.34" r="1.60"/><circle cx="116.06" cy="355.60" r="1.60"/><circle cx="116.48" cy="355.82" r="1.60"/><circle cx="116.90" cy="356.03" r="1.60"/><circle cx="117.32" cy="356.20" r="1.60"/><circle cx="117.74" cy="356.35" r="1.60"/><circle cx="118.16" cy="356.48" r="1.60"/><circle cx="118.58" cy="356.61" r="1.60"/><circle cx="119.00" cy="356.73" r="1.60"/><circle cx="119.42" cy="356.84" r="1.60"/><circle cx="119.84" cy="356.95" r="1.60"/><circle cx="120.26" cy="357.06" r="1.60"/><circle cx="120.68" cy="357.16" r="1.60"/><circle cx="121.10" cy="357.26" r="1.60"/><circle cx="121.52" cy="357.35" r="1.60"/><circle cx="121.94" cy="357.44" r="1.60"/><circle cx="122.36" cy="357.52" r="1.60"/><circle cx="122.78" cy="357.60" r="1.60"/><circle cx="123.20" cy="357.68" r="1.60"/><circle cx="123.62" cy="357.76" r="1.60"/><circle cx="124.04" cy="357.83" r="1.60"/><circle cx="124.46" cy="357.90" r="1.60"/><circle cx="124.88" cy="357.97" r="1.60"/><circle cx="125.30" cy="358.03" r="1.60"/><circle cx="125.72" cy="358.10" r="1.60"/><circle cx="126.14" cy="358.16" r="1.60"/><circle cx="126.56" cy="358.23" r="1.60"/><circle cx="126.98" cy="358.29" r="1.60"/><circle cx="127.40" cy="358.35" r="1.60"/><circle cx="127.82" cy="358.41" r="1.60"/><circle cx="128.24" cy="358.47" r="1.60"/><circle cx="128.66" cy="358.53" r="1.60"/><circle cx="129.08" cy="358.60" r="1.60"/><circle cx="129.50" cy="358.66" r="1.60"/><circle cx="129.92" cy="358.72" r="1.60"/><circle cx="130.34" cy="358.78" r="1.60"/><circle cx="130.76" cy="358.84" r="1.60"/><circle cx="131.18" cy="358.90" r="1.60"/><circle cx="131.60" cy="358.96" r="1.60"/><circle cx="132.02" cy="359.01" r="1.60"/><circle cx="132.44" cy="359.07" r="1.60"/><circle cx="132.86" cy="359.12" r="1.60"/><circle cx="133.28" cy="359.17" r="1.60"/><circle cx="133.70" cy="359.23" r="1.60"/><circle cx="134.12" cy="359.28" r="1.60"/><circle cx="134.54" cy="359.33" r="1.60"/><circle cx="134.96" cy="359.38" r="1.60"/><circle cx="135.38" cy="359.43" r="1.60"/><circle cx="135.80" cy="359.48" r="1.60"/><circle cx="136.22" cy="359.53" r="1.60"/><circle cx="136.64" cy="359.57" r="1.60"/><circle cx="137.06" cy="359.62" r="1.60"/><circle cx="137.48" cy="359.67" r="1.60"/><circle cx="137.90" cy="359.71" r="1.60"/><circle cx="138.32" cy="359.76" r="1.60"/><circle cx="138.74" cy="359.80" r="1.60"/><circle cx="139.16" cy="359.84" r="1.60"/><circle cx="139.58" cy="359.88" r="1.60"/><circle cx="140.00" cy="359.93" r="1.60"/><circle cx="140.42" cy="359.97" r="1.60"/><circle cx="140.84" cy="360.01" r="1.60"/><circle cx="141.26" cy="360.05" r="1.60"/><circle cx="141.68" cy="360.09" r="1.60"/><circle cx="142.10" cy="360.13" r="1.60"/><circle cx="142.52" cy="360.17" r="1.60"/><circle cx="142.94" cy="360.21" r="1.60"/><circle cx="143.36" cy="360.26" r="1.60"/><circle cx="143.78" cy="360.30" r="1.60"/><circle cx="144.20" cy="360.34" r="1.60"/><circle cx="144.62" cy="360.39" r="1.60"/><circle cx="145.04" cy="360.43" r="1.60"/><circle cx="145.46" cy="360.48" r="1.60"/><circle cx="145.88" cy="360.52" r="1.60"/><circle cx="146.30" cy="360.56" r="1.60"/><circle cx="146.72" cy="360.60" r="1.60"/><circle cx="147.14" cy="360.64" r="1.60"/><circle cx="147.56" cy="360.68" r="1.60"/><circle cx="147.98" cy="360.71" r="1.60"/><circle cx="148.40" cy="360.75" r="1.60"/><circle cx="148.82" cy="360.78" r="1.60"/><circle cx="149.24" cy="360.81" r="1.60"/><circle cx="149.66" cy="360.83" r="1.60"/><circle cx="150.08" cy="360.85" r="1.60"/><circle cx="150.50" cy="360.87" r="1.60"/><circle cx="150.92" cy="360.88" r="1.60"/><circle cx="151.34" cy="360.89" r="1.60"/><circle cx="151.76" cy="360.90" r="1.60"/><circle cx="152.18" cy="360.90" r="1.60"/><circle cx="152.60" cy="360.89" r="1.60"/><circle cx="153.02" cy="360.87" r="1.60"/><circle cx="153.44" cy="360.85" r="1.60"/><circle cx="153.86" cy="360.82" r="1.60"/><circle cx="154.28" cy="360.78" r="1.60"/><circle cx="154.70" cy="360.73" r="1.60"/><circle cx="155.12" cy="360.68" r="1.60"/><circle cx="155.54" cy="360.62" r="1.60"/><circle cx="155.96" cy="360.56" r="1.60"/><circle cx="156.38" cy="360.49" r="1.60"/><circle cx="156.80" cy="360.41" r="1.60"/><circle cx="157.22" cy="360.34" r="1.60"/><circle cx="157.64" cy="360.26" r="1.60"/><circle cx="158.06" cy="360.17" r="1.60"/><circle cx="158.48" cy="360.08" r="1.60"/><circle cx="158.90" cy="359.97" r="1.60"/><circle cx="159.32" cy="359.82" r="1.60"/><circle cx="159.74" cy="359.64" r="1.60"/><circle cx="160.16" cy="359.43" r="1.60"/><circle cx="160.58" cy="359.20" r="1.60"/><circle cx="161.00" cy="358.94" r="1.60"/><circle cx="161.42" cy="358.67" r="1.60"/><circle cx="161.84" cy="358.39" r="1.60"/><circle cx="162.26" cy="358.09" r="1.60"/><circle cx="162.68" cy="357.79" r="1.60"/><circle cx="163.10" cy="357.49" r="1.60"/><circle cx="163.52" cy="357.19" r="1.60"/><circle cx="163.94" cy="356.87" r="1.60"/><circle cx="164.36" cy="356.54" r="1.60"/><circle cx="164.78" cy="356.19" r="1.60"/><circle cx="165.20" cy="355.81" r="1.60"/><circle cx="165.62" cy="355.42" r="1.60"/><circle cx="166.04" cy="355.02" r="1.60"/><circle cx="166.46" cy="354.59" r="1.60"/><circle cx="166.88" cy="354.15" r="1.60"/><circle cx="167.30" cy="353.69" r="1.60"/><circle cx="167.72" cy="353.22" r="1.60"/><circle cx="168.14" cy="352.73" r="1.60"/><circle cx="168.56" cy="352.23" r="1.60"/><circle cx="168.98" cy="351.70" r="1.60"/><circle cx="169.40" cy="351.14" r="1.60"/><circle cx="169.82" cy="350.56" r="1.60"/><circle cx="170.24" cy="349.95" r="1.60"/><circle cx="170.66" cy="349.32" r="1.60"/><circle cx="171.08" cy="348.65" r="1.60"/><circle cx="171.50" cy="347.97" r="1.60"/><circle cx="171.92" cy="347.26" r="1.60"/><circle cx="172.34" cy="346.53" r="1.60"/><circle cx="172.76" cy="345.77" r="1.60"/><circle cx="173.18" cy="345.00" r="1.60"/><circle cx="173.60" cy="344.20" r="1.60"/><circle cx="174.02" cy="343.36" r="1.60"/><circle cx="174.44" cy="342.46" r="1.60"/><circle cx="174.86" cy="341.51" r="1.60"/><circle cx="175.28" cy="340.51" r="1.60"/><circle cx="175.70" cy="339.48" r="1.60"/><circle cx="176.12" cy="338.41" r="1.60"/><circle cx="176.54" cy="337.30" r="1.60"/><circle cx="176.96" cy="336.13" r="1.60"/><circle cx="177.38" cy="334.90" r="1.60"/><circle cx="177.80" cy="333.63" r="1.60"/><circle cx="178.22" cy="332.33" r="1.60"/><circle cx="178.64" cy="331.02" r="1.60"/><circle cx="179.06" cy="329.69" r="1.60"/><circle cx="179.48" cy="328.36" r="1.60"/><circle cx="179.90" cy="327.04" r="1.60"/><circle cx="180.32" cy="325.75" r="1.60"/><circle cx="180.74" cy="324.48" r="1.60"/><circle cx="181.16" cy="323.21" r="1.60"/><circle cx="181.58" cy="321.94" r="1.60"/><circle cx="182.00" cy="320.66" r="1.60"/><circle cx="182.42" cy="319.38" r="1.60"/><circle cx="182.84" cy="318.11" r="1.60"/><circle cx="183.26" cy="316.85" r="1.60"/><circle cx="183.68" cy="315.60" r="1.60"/><circle cx="184.10" cy="314.37" r="1.60"/><circle cx="184.52" cy="313.16" r="1.60"/><circle cx="184.94" cy="311.99" r="1.60"/><circle cx="185.36" cy="310.84" r="1.60"/><circle cx="185.78" cy="309.67" r="1.60"/><circle cx="186.20" cy="308.48" r="1.60"/><circle cx="186.62" cy="307.31" r="1.60"/><circle cx="187.04" cy="306.21" r="1.60"/><circle cx="187.46" cy="305.23" r="1.60"/><circle cx="187.88" cy="304.40" r="1.60"/><circle cx="188.30" cy="303.73" r="1.60"/><circle cx="188.72" cy="303.10" r="1.60"/><circle cx="189.14" cy="302.52" r="1.60"/><circle cx="189.56" cy="301.99" r="1.60"/><circle cx="189.98" cy="301.52" r="1.60"/><circle cx="190.40" cy="301.13" r="1.60"/><circle cx="190.82" cy="300.81" r="1.60"/><circle cx="191.24" cy="300.57" r="1.60"/><circle cx="191.66" cy="300.34" r="1.60"/><circle cx="192.08" cy="300.12" r="1.60"/><circle cx="192.50" cy="299.92" r="1.60"/><circle cx="192.92" cy="299.75" r="1.60"/><circle cx="193.34" cy="299.61" r="1.60"/><circle cx="193.76" cy="299.50" r="1.60"/><circle cx="194.18" cy="299.42" r="1.60"/><circle cx="194.60" cy="299.40" r="1.60"/><circle cx="195.02" cy="299.43" r="1.60"/><circle cx="195.44" cy="299.50" r="1.60"/><circle cx="195.86" cy="299.62" r="1.60"/><circle cx="196.28" cy="299.77" r="1.60"/><circle cx="196.70" cy="299.94" r="1.60"/><circle cx="197.12" cy="300.14" r="1.60"/><circle cx="197.54" cy="300.36" r="1.60"/><circle cx="197.96" cy="300.57" r="1.60"/><circle cx="198.38" cy="300.80" r="1.60"/><circle cx="198.80" cy="301.06" r="1.60"/><circle cx="199.22" cy="301.37" r="1.60"/><circle cx="199.64" cy="301.72" r="1.60"/><circle cx="200.06" cy="302.10" r="1.60"/><circle cx="200.48" cy="302.53" r="1.60"/><circle cx="200.90" cy="302.99" r="1.60"/><circle cx="201.32" cy="303.48" r="1.60"/><circle cx="201.74" cy="304.00" r="1.60"/><circle cx="202.16" cy="304.56" r="1.60"/><circle cx="202.58" cy="305.22" r="1.60"/><circle cx="203.00" cy="305.98" r="1.60"/><circle cx="203.42" cy="306.82" r="1.60"/><circle cx="203.84" cy="307.71" r="1.60"/><circle cx="204.26" cy="308.64" r="1.60"/><circle cx="204.68" cy="309.59" r="1.60"/><circle cx="205.10" cy="310.55" r="1.60"/><circle cx="205.52" cy="311.50" r="1.60"/><circle cx="205.94" cy="312.50" r="1.60"/><circle cx="206.36" cy="313.55" r="1.60"/><circle cx="206.78" cy="314.64" r="1.60"/><circle cx="207.20" cy="315.77" r="1.60"/><circle cx="207.62" cy="316.91" r="1.60"/><circle cx="208.04" cy="318.06" r="1.60"/><circle cx="208.46" cy="319.23" r="1.60"/><circle cx="208.88" cy="320.38" r="1.60"/><circle cx="209.30" cy="321.53" r="1.60"/><circle cx="209.72" cy="322.65" r="1.60"/><circle cx="210.14" cy="323.75" r="1.60"/><circle cx="210.56" cy="324.80" r="1.60"/><circle cx="210.98" cy="325.83" r="1.60"/><circle cx="211.40" cy="326.86" r="1.60"/><circle cx="211.82" cy="327.88" r="1.60"/><circle cx="212.24" cy="328.90" r="1.60"/><circle cx="212.66" cy="329.90" r="1.60"/><circle cx="213.08" cy="330.90" r="1.60"/><circle cx="213.50" cy="331.89" r="1.60"/><circle cx="213.92" cy="332.86" r="1.60"/><circle cx="214.34" cy="333.82" r="1.60"/><circle cx="214.76" cy="334.75" r="1.60"/><circle cx="215.18" cy="335.67" r="1.60"/><circle cx="215.60" cy="336.56" r="1.60"/><circle cx="216.02" cy="337.44" r="1.60"/><circle cx="216.44" cy="338.28" r="1.60"/><circle cx="216.86" cy="339.12" r="1.60"/><circle cx="217.28" cy="339.95" r="1.60"/><circle cx="217.70" cy="340.77" r="1.60"/><circle cx="218.12" cy="341.57" r="1.60"/><circle cx="218.54" cy="342.33" r="1.60"/><circle cx="218.96" cy="343.05" r="1.60"/><circle cx="219.38" cy="343.73" r="1.60"/><circle cx="219.80" cy="344.33" r="1.60"/><circle cx="220.22" cy="344.88" r="1.60"/><circle cx="220.64" cy="345.41" r="1.60"/><circle cx="221.06" cy="345.92" r="1.60"/><circle cx="221.48" cy="346.42" r="1.60"/><circle cx="221.90" cy="346.90" r="1.60"/><circle cx="222.32" cy="347.35" r="1.60"/><circle cx="222.74" cy="347.78" r="1.60"/><circle cx="223.16" cy="348.18" r="1.60"/><circle cx="223.58" cy="348.54" r="1.60"/><circle cx="224.00" cy="348.87" r="1.60"/><circle cx="224.42" cy="349.17" r="1.60"/><circle cx="224.84" cy="349.42" r="1.60"/><circle cx="225.26" cy="349.63" r="1.60"/><circle cx="225.68" cy="349.83" r="1.60"/><circle cx="226.10" cy="350.02" r="1.60"/><circle cx="226.52" cy="350.19" r="1.60"/><circle cx="226.94" cy="350.35" r="1.60"/><circle cx="227.36" cy="350.51" r="1.60"/><circle cx="227.78" cy="350.65" r="1.60"/><circle cx="228.20" cy="350.78" r="1.60"/><circle cx="228.62" cy="350.89" r="1.60"/><circle cx="229.04" cy="351.00" r="1.60"/><circle cx="229.46" cy="351.09" r="1.60"/><circle cx="229.88" cy="351.18" r="1.60"/><circle cx="230.30" cy="351.25" r="1.60"/><circle cx="230.72" cy="351.33" r="1.60"/><circle cx="231.14" cy="351.40" r="1.60"/><circle cx="231.56" cy="351.47" r="1.60"/><circle cx="231.98" cy="351.54" r="1.60"/><circle cx="232.40" cy="351.60" r="1.60"/><circle cx="232.82" cy="351.65" r="1.60"/><circle cx="233.24" cy="351.70" r="1.60"/><circle cx="233.66" cy="351.74" r="1.60"/><circle cx="234.08" cy="351.77" r="1.60"/><circle cx="234.50" cy="351.79" r="1.60"/><circle cx="234.92" cy="351.80" r="1.60"/><circle cx="235.34" cy="351.80" r="1.60"/><circle cx="235.76" cy="351.79" r="1.60"/><circle cx="236.18" cy="351.79" r="1.60"/><circle cx="236.60" cy="351.78" r="1.60"/><circle cx="237.02" cy="351.76" r="1.60"/><circle cx="237.44" cy="351.75" r="1.60"/><circle cx="237.86" cy="351.73" r="1.60"/><circle cx="238.28" cy="351.71" r="1.60"/><circle cx="238.70" cy="351.68" r="1.60"/><circle cx="239.12" cy="351.66" r="1.60"/><circle cx="239.54" cy="351.63" r="1.60"/><circle cx="239.96" cy="351.60" r="1.60"/><circle cx="240.38" cy="351.57" r="1.60"/><circle cx="240.80" cy="351.54" r="1.60"/><circle cx="241.22" cy="351.51" r="1.60"/><circle cx="241.64" cy="351.48" r="1.60"/><circle cx="242.06" cy="351.44" r="1.60"/><circle cx="242.48" cy="351.41" r="1.60"/><circle cx="242.90" cy="351.37" r="1.60"/><circle cx="243.32" cy="351.34" r="1.60"/><circle cx="243.74" cy="351.30" r="1.60"/><circle cx="244.16" cy="351.27" r="1.60"/><circle cx="244.58" cy="351.23" r="1.60"/><circle cx="245.00" cy="351.20" r="1.60"/><circle cx="245.42" cy="351.16" r="1.60"/><circle cx="245.84" cy="351.13" r="1.60"/><circle cx="246.26" cy="351.08" r="1.60"/><circle cx="246.68" cy="351.04" r="1.60"/><circle cx="247.10" cy="350.99" r="1.60"/><circle cx="247.52" cy="350.94" r="1.60"/><circle cx="247.94" cy="350.89" r="1.60"/><circle cx="248.36" cy="350.84" r="1.60"/><circle cx="248.78" cy="350.78" r="1.60"/><circle cx="249.20" cy="350.73" r="1.60"/><circle cx="249.62" cy="350.67" r="1.60"/><circle cx="250.04" cy="350.62" r="1.60"/><circle cx="250.46" cy="350.56" r="1.60"/><circle cx="250.88" cy="350.50" r="1.60"/><circle cx="251.30" cy="350.45" r="1.60"/><circle cx="251.72" cy="350.39" r="1.60"/><circle cx="252.14" cy="350.33" r="1.60"/><circle cx="252.56" cy="350.28" r="1.60"/><circle cx="252.98" cy="350.23" r="1.60"/><circle cx="253.40" cy="350.18" r="1.60"/><circle cx="253.82" cy="350.13" r="1.60"/><circle cx="254.24" cy="350.08" r="1.60"/><circle cx="254.66" cy="350.03" r="1.60"/><circle cx="255.08" cy="349.99" r="1.60"/><circle cx="255.50" cy="349.95" r="1.60"/><circle cx="255.92" cy="349.91" r="1.60"/><circle cx="256.34" cy="349.88" r="1.60"/><circle cx="256.76" cy="349.84" r="1.60"/><circle cx="257.18" cy="349.80" r="1.60"/></g>
<rect x="7.6" y="232.7" width="250.79999999999998" height="179.0" fill="none" stroke="#000" stroke-width="1.75"/>
<line x1="12.20" y1="411.7" x2="12.20" y2="416.4" stroke="#000" stroke-width="1.5"/>
<text x="3.86" y="426.9" font-size="11.2" fill="#000" stroke="#000" stroke-width="0.3" font-weight="bold" textLength="16.57" lengthAdjust="spacingAndGlyphs" >635</text>
<line x1="36.81" y1="411.7" x2="36.81" y2="414.5" stroke="#000" stroke-width="1.5"/>
<line x1="61.42" y1="411.7" x2="61.42" y2="416.4" stroke="#000" stroke-width="1.5"/>
<text x="53.31" y="426.9" font-size="11.2" fill="#000" stroke="#000" stroke-width="0.3" font-weight="bold" textLength="16.32" lengthAdjust="spacingAndGlyphs" >640</text>
<line x1="86.03" y1="411.7" x2="86.03" y2="414.5" stroke="#000" stroke-width="1.5"/>
<line x1="110.64" y1="411.7" x2="110.64" y2="416.4" stroke="#000" stroke-width="1.5"/>
<text x="102.50" y="426.9" font-size="11.2" fill="#000" stroke="#000" stroke-width="0.3" font-weight="bold" textLength="16.32" lengthAdjust="spacingAndGlyphs" >645</text>
<line x1="135.25" y1="411.7" x2="135.25" y2="414.5" stroke="#000" stroke-width="1.5"/>
<line x1="159.86" y1="411.7" x2="159.86" y2="416.4" stroke="#000" stroke-width="1.5"/>
<text x="151.69" y="426.9" font-size="11.2" fill="#000" stroke="#000" stroke-width="0.3" font-weight="bold" textLength="16.32" lengthAdjust="spacingAndGlyphs" >650</text>
<line x1="184.47" y1="411.7" x2="184.47" y2="414.5" stroke="#000" stroke-width="1.5"/>
<line x1="209.08" y1="411.7" x2="209.08" y2="416.4" stroke="#000" stroke-width="1.5"/>
<text x="200.87" y="426.9" font-size="11.2" fill="#000" stroke="#000" stroke-width="0.3" font-weight="bold" textLength="16.57" lengthAdjust="spacingAndGlyphs" >655</text>
<line x1="233.69" y1="411.7" x2="233.69" y2="414.5" stroke="#000" stroke-width="1.5"/>
<line x1="258.30" y1="411.7" x2="258.30" y2="416.4" stroke="#000" stroke-width="1.5"/>
<text x="250.06" y="426.9" font-size="11.2" fill="#000" stroke="#000" stroke-width="0.3" font-weight="bold" textLength="16.57" lengthAdjust="spacingAndGlyphs" >660</text>
<text x="88.47" y="444.2" font-size="10.8" fill="#000" stroke="#000" stroke-width="0.3" font-weight="bold" textLength="89.81" lengthAdjust="spacingAndGlyphs" >Binding energy (eV)</text>
<text x="10.88" y="245.0" font-size="10" fill="#000" stroke="#000" stroke-width="0.3" font-weight="bold" textLength="12.03" lengthAdjust="spacingAndGlyphs" >(c)</text>
<text x="226.24" y="244.6" font-size="11.5" fill="#000" stroke="#000" stroke-width="0.3" font-weight="bold" textLength="29.72" lengthAdjust="spacingAndGlyphs" >Mn 2p</text>
<line x1="112.30" y1="244.40" x2="86.00" y2="244.40" stroke="#000" stroke-width="1.0"/>
<polygon points="81.50,244.40 86.50,242.60 86.50,246.20" fill="#000"/>
<line x1="164.00" y1="244.40" x2="189.50" y2="244.40" stroke="#000" stroke-width="1.0"/>
<polygon points="194.00,244.40 189.00,246.20 189.00,242.60" fill="#000"/>
<text x="117.70" y="247.3" font-size="8.4" fill="#000" stroke="#000" stroke-width="0.22" font-weight="bold" textLength="43.69" lengthAdjust="spacingAndGlyphs" ><tspan font-size="9">▲</tspan>E = 11.8 eV</text>
<text x="21.08" y="293.2" font-size="12" fill="#000" stroke="#000" stroke-width="0.3" font-weight="bold" textLength="37.54" lengthAdjust="spacingAndGlyphs" >Mn 2p<tspan font-size="7.0" font-style="italic" dy="3.8">3/2</tspan></text>
<text x="218.57" y="320.4" font-size="12" fill="#000" stroke="#000" stroke-width="0.3" font-weight="bold" textLength="37.53" lengthAdjust="spacingAndGlyphs" >Mn 2p<tspan font-size="7.2" dy="3.8">1/2</tspan></text>
<line x1="40.50" y1="282.20" x2="66.24" y2="270.20" stroke="#8a0f16" stroke-width="2.0"/>
<polygon points="74.40,266.40 67.06,273.13 64.52,267.69" fill="#8a0f16"/>
<line x1="231.80" y1="312.30" x2="208.95" y2="301.93" stroke="#8a0f16" stroke-width="2.0"/>
<polygon points="200.30,298.00 210.65,299.40 208.17,304.87" fill="#8a0f16"/>
<path d="M320.00,401.91 L320.50,401.82 L321.00,401.71 L321.50,401.56 L322.00,401.37 L322.50,401.13 L323.00,400.82 L323.50,400.43 L324.00,399.94 L324.50,399.32 L325.00,398.55 L325.50,397.61 L326.00,396.46 L326.50,395.08 L327.00,393.42 L327.50,391.46 L328.00,389.16 L328.50,386.49 L329.00,383.43 L329.50,379.95 L330.00,376.05 L330.50,371.71 L331.00,366.94 L331.50,361.77 L332.00,356.23 L332.50,350.37 L333.00,344.25 L333.50,337.95 L334.00,331.57 L334.50,325.21 L335.00,318.99 L335.50,313.03 L336.00,307.45 L336.50,302.38 L337.00,297.93 L337.50,294.21 L338.00,291.30 L338.50,289.28 L339.00,288.21 L339.50,288.09 L340.00,288.95 L340.50,290.75 L341.00,293.46 L341.50,296.99 L342.00,301.28 L342.50,306.20 L343.00,311.66 L343.50,317.52 L344.00,323.66 L344.50,329.97 L345.00,336.33 L345.50,342.62 L346.00,348.75 L346.50,354.64 L347.00,360.22 L347.50,365.44 L348.00,370.26 L348.50,374.65 L349.00,378.61 L349.50,382.14 L350.00,385.26 L350.50,387.97 L351.00,390.31 L351.50,392.30 L352.00,393.99 L352.50,395.40 L353.00,396.56 L353.50,397.51 L354.00,398.28 L354.50,398.90 L355.00,399.39 L355.50,399.77 L356.00,400.06 L356.50,400.29 L357.00,400.46 L357.50,400.58 L358.00,400.67 L358.50,400.74 L358.50,400.94 L358.00,400.96 L357.50,400.97 L357.00,400.98 L356.50,401.00 L356.00,401.01 L355.50,401.03 L355.00,401.04 L354.50,401.06 L354.00,401.07 L353.50,401.09 L353.00,401.10 L352.50,401.12 L352.00,401.13 L351.50,401.15 L351.00,401.16 L350.50,401.18 L350.00,401.19 L349.50,401.21 L349.00,401.22 L348.50,401.24 L348.00,401.26 L347.50,401.27 L347.00,401.29 L346.50,401.30 L346.00,401.32 L345.50,401.33 L345.00,401.35 L344.50,401.36 L344.00,401.38 L343.50,401.39 L343.00,401.41 L342.50,401.42 L342.00,401.44 L341.50,401.45 L341.00,401.47 L340.50,401.48 L340.00,401.50 L339.50,401.52 L339.00,401.53 L338.50,401.55 L338.00,401.56 L337.50,401.58 L337.00,401.59 L336.50,401.61 L336.00,401.62 L335.50,401.64 L335.00,401.65 L334.50,401.67 L334.00,401.68 L333.50,401.70 L333.00,401.71 L332.50,401.73 L332.00,401.75 L331.50,401.76 L331.00,401.78 L330.50,401.79 L330.00,401.81 L329.50,401.82 L329.00,401.84 L328.50,401.85 L328.00,401.87 L327.50,401.88 L327.00,401.90 L326.50,401.91 L326.00,401.93 L325.50,401.94 L325.00,401.96 L324.50,401.97 L324.00,401.99 L323.50,402.00 L323.00,402.02 L322.50,402.03 L322.00,402.04 L321.50,402.06 L321.00,402.07 L320.50,402.09 L320.00,402.10Z" fill="rgba(255,40,40,0.62)" stroke="none"/>
<path d="M320.00,401.91 L320.50,401.82 L321.00,401.71 L321.50,401.56 L322.00,401.37 L322.50,401.13 L323.00,400.82 L323.50,400.43 L324.00,399.94 L324.50,399.32 L325.00,398.55 L325.50,397.61 L326.00,396.46 L326.50,395.08 L327.00,393.42 L327.50,391.46 L328.00,389.16 L328.50,386.49 L329.00,383.43 L329.50,379.95 L330.00,376.05 L330.50,371.71 L331.00,366.94 L331.50,361.77 L332.00,356.23 L332.50,350.37 L333.00,344.25 L333.50,337.95 L334.00,331.57 L334.50,325.21 L335.00,318.99 L335.50,313.03 L336.00,307.45 L336.50,302.38 L337.00,297.93 L337.50,294.21 L338.00,291.30 L338.50,289.28 L339.00,288.21 L339.50,288.09 L340.00,288.95 L340.50,290.75 L341.00,293.46 L341.50,296.99 L342.00,301.28 L342.50,306.20 L343.00,311.66 L343.50,317.52 L344.00,323.66 L344.50,329.97 L345.00,336.33 L345.50,342.62 L346.00,348.75 L346.50,354.64 L347.00,360.22 L347.50,365.44 L348.00,370.26 L348.50,374.65 L349.00,378.61 L349.50,382.14 L350.00,385.26 L350.50,387.97 L351.00,390.31 L351.50,392.30 L352.00,393.99 L352.50,395.40 L353.00,396.56 L353.50,397.51 L354.00,398.28 L354.50,398.90 L355.00,399.39 L355.50,399.77 L356.00,400.06 L356.50,400.29 L357.00,400.46 L357.50,400.58 L358.00,400.67 L358.50,400.74" fill="none" stroke="#ff3a3a" stroke-width="1.0"/>
<path d="M288.50,402.72 L289.00,402.71 L289.50,402.70 L290.00,402.68 L290.50,402.67 L291.00,402.65 L291.50,402.64 L292.00,402.63 L292.50,402.61 L293.00,402.60 L293.50,402.58 L294.00,402.57 L294.50,402.55 L295.00,402.54 L295.50,402.52 L296.00,402.51 L296.50,402.49 L297.00,402.48 L297.50,402.46 L298.00,402.44 L298.50,402.43 L299.00,402.41 L299.50,402.39 L300.00,402.38 L300.50,402.36 L301.00,402.34 L301.50,402.33 L302.00,402.31 L302.50,402.29 L303.00,402.27 L303.50,402.25 L304.00,402.23 L304.50,402.22 L305.00,402.20 L305.50,402.18 L306.00,402.16 L306.50,402.14 L307.00,402.12 L307.50,402.10 L308.00,402.07 L308.50,402.05 L309.00,402.03 L309.50,402.01 L310.00,401.99 L310.50,401.96 L311.00,401.94 L311.50,401.91 L312.00,401.89 L312.50,401.86 L313.00,401.84 L313.50,401.81 L314.00,401.78 L314.50,401.75 L315.00,401.73 L315.50,401.70 L316.00,401.66 L316.50,401.63 L317.00,401.60 L317.50,401.56 L318.00,401.52 L318.50,401.48 L319.00,401.44 L319.50,401.39 L320.00,401.34 L320.50,401.28 L321.00,401.22 L321.50,401.15 L322.00,401.08 L322.50,401.00 L323.00,400.90 L323.50,400.80 L324.00,400.68 L324.50,400.55 L325.00,400.40 L325.50,400.23 L326.00,400.04 L326.50,399.83 L327.00,399.58 L327.50,399.31 L328.00,399.00 L328.50,398.66 L329.00,398.27 L329.50,397.84 L330.00,397.37 L330.50,396.84 L331.00,396.26 L331.50,395.62 L332.00,394.93 L332.50,394.17 L333.00,393.35 L333.50,392.47 L334.00,391.52 L334.50,390.52 L335.00,389.45 L335.50,388.33 L336.00,387.15 L336.50,385.93 L337.00,384.66 L337.50,383.36 L338.00,382.03 L338.50,380.68 L339.00,379.33 L339.50,377.99 L340.00,376.67 L340.50,375.38 L341.00,374.13 L341.50,372.95 L342.00,371.85 L342.50,370.84 L343.00,369.94 L343.50,369.17 L344.00,368.53 L344.50,368.04 L345.00,367.71 L345.50,367.55 L346.00,367.55 L346.50,367.72 L347.00,368.05 L347.50,368.54 L348.00,369.17 L348.50,369.94 L349.00,370.83 L349.50,371.83 L350.00,372.92 L350.50,374.08 L351.00,375.31 L351.50,376.58 L352.00,377.87 L352.50,379.19 L353.00,380.51 L353.50,381.82 L354.00,383.11 L354.50,384.38 L355.00,385.61 L355.50,386.79 L356.00,387.93 L356.50,389.01 L357.00,390.04 L357.50,391.00 L358.00,391.90 L358.50,392.74 L359.00,393.52 L359.50,394.24 L360.00,394.89 L360.50,395.49 L361.00,396.03 L361.50,396.52 L362.00,396.95 L362.50,397.34 L363.00,397.69 L363.50,398.00 L364.00,398.27 L364.50,398.51 L365.00,398.72 L365.50,398.90 L366.00,399.06 L366.50,399.20 L367.00,399.32 L367.50,399.42 L368.00,399.50 L368.50,399.58 L369.00,399.64 L369.50,399.70 L370.00,399.74 L370.50,399.78 L371.00,399.82 L371.50,399.85 L372.00,399.87 L372.50,399.89 L373.00,399.91 L373.50,399.92 L374.00,399.94 L374.50,399.95 L375.00,399.95 L375.50,399.96 L376.00,399.97 L376.50,399.97 L377.00,399.98 L377.50,399.98 L378.00,399.98 L378.50,399.98 L379.00,399.98 L379.50,399.98 L380.00,399.98 L380.50,399.98 L381.00,399.98 L381.50,399.98 L382.00,399.98 L382.50,399.98 L383.00,399.97 L383.50,399.97 L384.00,399.97 L384.50,399.96 L385.00,399.96 L385.50,399.95 L386.00,399.95 L386.50,399.94 L387.00,399.94 L387.50,399.93 L388.00,399.93 L388.50,399.92 L389.00,399.91 L389.50,399.91 L390.00,399.90 L390.50,399.89 L391.00,399.89 L391.50,399.88 L392.00,399.87 L392.50,399.86 L393.00,399.86 L393.50,399.85 L394.00,399.84 L394.50,399.83 L395.00,399.82 L395.50,399.82 L396.00,399.81 L396.50,399.80 L397.00,399.79 L397.50,399.78 L398.00,399.77 L398.50,399.76 L399.00,399.75 L399.50,399.74 L400.00,399.73 L400.50,399.72 L401.00,399.71 L401.50,399.70 L402.00,399.69 L402.50,399.68 L403.00,399.67 L403.50,399.66 L403.50,399.81 L403.00,399.82 L402.50,399.83 L402.00,399.85 L401.50,399.86 L401.00,399.87 L400.50,399.89 L400.00,399.90 L399.50,399.91 L399.00,399.93 L398.50,399.94 L398.00,399.95 L397.50,399.97 L397.00,399.98 L396.50,399.99 L396.00,400.00 L395.50,400.02 L395.00,400.03 L394.50,400.04 L394.00,400.05 L393.50,400.07 L393.00,400.08 L392.50,400.09 L392.00,400.10 L391.50,400.12 L391.00,400.13 L390.50,400.14 L390.00,400.15 L389.50,400.17 L389.00,400.18 L388.50,400.19 L388.00,400.20 L387.50,400.21 L387.00,400.23 L386.50,400.24 L386.00,400.25 L385.50,400.26 L385.00,400.27 L384.50,400.29 L384.00,400.30 L383.50,400.31 L383.00,400.32 L382.50,400.33 L382.00,400.35 L381.50,400.36 L381.00,400.37 L380.50,400.38 L380.00,400.39 L379.50,400.41 L379.00,400.42 L378.50,400.43 L378.00,400.44 L377.50,400.45 L377.00,400.47 L376.50,400.48 L376.00,400.49 L375.50,400.50 L375.00,400.51 L374.50,400.53 L374.00,400.54 L373.50,400.55 L373.00,400.56 L372.50,400.58 L372.00,400.59 L371.50,400.60 L371.00,400.61 L370.50,400.63 L370.00,400.64 L369.50,400.65 L369.00,400.66 L368.50,400.68 L368.00,400.69 L367.50,400.70 L367.00,400.71 L366.50,400.73 L366.00,400.74 L365.50,400.75 L365.00,400.77 L364.50,400.78 L364.00,400.79 L363.50,400.81 L363.00,400.82 L362.50,400.83 L362.00,400.85 L361.50,400.86 L361.00,400.87 L360.50,400.89 L360.00,400.90 L359.50,400.91 L359.00,400.93 L358.50,400.94 L358.00,400.96 L357.50,400.97 L357.00,400.98 L356.50,401.00 L356.00,401.01 L355.50,401.03 L355.00,401.04 L354.50,401.06 L354.00,401.07 L353.50,401.09 L353.00,401.10 L352.50,401.12 L352.00,401.13 L351.50,401.15 L351.00,401.16 L350.50,401.18 L350.00,401.19 L349.50,401.21 L349.00,401.22 L348.50,401.24 L348.00,401.26 L347.50,401.27 L347.00,401.29 L346.50,401.30 L346.00,401.32 L345.50,401.33 L345.00,401.35 L344.50,401.36 L344.00,401.38 L343.50,401.39 L343.00,401.41 L342.50,401.42 L342.00,401.44 L341.50,401.45 L341.00,401.47 L340.50,401.48 L340.00,401.50 L339.50,401.52 L339.00,401.53 L338.50,401.55 L338.00,401.56 L337.50,401.58 L337.00,401.59 L336.50,401.61 L336.00,401.62 L335.50,401.64 L335.00,401.65 L334.50,401.67 L334.00,401.68 L333.50,401.70 L333.00,401.71 L332.50,401.73 L332.00,401.75 L331.50,401.76 L331.00,401.78 L330.50,401.79 L330.00,401.81 L329.50,401.82 L329.00,401.84 L328.50,401.85 L328.00,401.87 L327.50,401.88 L327.00,401.90 L326.50,401.91 L326.00,401.93 L325.50,401.94 L325.00,401.96 L324.50,401.97 L324.00,401.99 L323.50,402.00 L323.00,402.02 L322.50,402.03 L322.00,402.04 L321.50,402.06 L321.00,402.07 L320.50,402.09 L320.00,402.10 L319.50,402.11 L319.00,402.13 L318.50,402.14 L318.00,402.15 L317.50,402.17 L317.00,402.18 L316.50,402.19 L316.00,402.21 L315.50,402.22 L315.00,402.23 L314.50,402.25 L314.00,402.26 L313.50,402.27 L313.00,402.29 L312.50,402.30 L312.00,402.31 L311.50,402.33 L311.00,402.34 L310.50,402.35 L310.00,402.37 L309.50,402.38 L309.00,402.39 L308.50,402.40 L308.00,402.42 L307.50,402.43 L307.00,402.44 L306.50,402.45 L306.00,402.47 L305.50,402.48 L305.00,402.49 L304.50,402.50 L304.00,402.52 L303.50,402.53 L303.00,402.54 L302.50,402.55 L302.00,402.57 L301.50,402.58 L301.00,402.59 L300.50,402.60 L300.00,402.61 L299.50,402.63 L299.00,402.64 L298.50,402.65 L298.00,402.66 L297.50,402.67 L297.00,402.69 L296.50,402.70 L296.00,402.71 L295.50,402.72 L295.00,402.73 L294.50,402.74 L294.00,402.76 L293.50,402.77 L293.00,402.78 L292.50,402.79 L292.00,402.80 L291.50,402.81 L291.00,402.82 L290.50,402.83 L290.00,402.84 L289.50,402.86 L289.00,402.87 L288.50,402.88Z" fill="rgba(40,130,220,0.55)" stroke="none"/>
<path d="M288.50,402.72 L289.00,402.71 L289.50,402.70 L290.00,402.68 L290.50,402.67 L291.00,402.65 L291.50,402.64 L292.00,402.63 L292.50,402.61 L293.00,402.60 L293.50,402.58 L294.00,402.57 L294.50,402.55 L295.00,402.54 L295.50,402.52 L296.00,402.51 L296.50,402.49 L297.00,402.48 L297.50,402.46 L298.00,402.44 L298.50,402.43 L299.00,402.41 L299.50,402.39 L300.00,402.38 L300.50,402.36 L301.00,402.34 L301.50,402.33 L302.00,402.31 L302.50,402.29 L303.00,402.27 L303.50,402.25 L304.00,402.23 L304.50,402.22 L305.00,402.20 L305.50,402.18 L306.00,402.16 L306.50,402.14 L307.00,402.12 L307.50,402.10 L308.00,402.07 L308.50,402.05 L309.00,402.03 L309.50,402.01 L310.00,401.99 L310.50,401.96 L311.00,401.94 L311.50,401.91 L312.00,401.89 L312.50,401.86 L313.00,401.84 L313.50,401.81 L314.00,401.78 L314.50,401.75 L315.00,401.73 L315.50,401.70 L316.00,401.66 L316.50,401.63 L317.00,401.60 L317.50,401.56 L318.00,401.52 L318.50,401.48 L319.00,401.44 L319.50,401.39 L320.00,401.34 L320.50,401.28 L321.00,401.22 L321.50,401.15 L322.00,401.08 L322.50,401.00 L323.00,400.90 L323.50,400.80 L324.00,400.68 L324.50,400.55 L325.00,400.40 L325.50,400.23 L326.00,400.04 L326.50,399.83 L327.00,399.58 L327.50,399.31 L328.00,399.00 L328.50,398.66 L329.00,398.27 L329.50,397.84 L330.00,397.37 L330.50,396.84 L331.00,396.26 L331.50,395.62 L332.00,394.93 L332.50,394.17 L333.00,393.35 L333.50,392.47 L334.00,391.52 L334.50,390.52 L335.00,389.45 L335.50,388.33 L336.00,387.15 L336.50,385.93 L337.00,384.66 L337.50,383.36 L338.00,382.03 L338.50,380.68 L339.00,379.33 L339.50,377.99 L340.00,376.67 L340.50,375.38 L341.00,374.13 L341.50,372.95 L342.00,371.85 L342.50,370.84 L343.00,369.94 L343.50,369.17 L344.00,368.53 L344.50,368.04 L345.00,367.71 L345.50,367.55 L346.00,367.55 L346.50,367.72 L347.00,368.05 L347.50,368.54 L348.00,369.17 L348.50,369.94 L349.00,370.83 L349.50,371.83 L350.00,372.92 L350.50,374.08 L351.00,375.31 L351.50,376.58 L352.00,377.87 L352.50,379.19 L353.00,380.51 L353.50,381.82 L354.00,383.11 L354.50,384.38 L355.00,385.61 L355.50,386.79 L356.00,387.93 L356.50,389.01 L357.00,390.04 L357.50,391.00 L358.00,391.90 L358.50,392.74 L359.00,393.52 L359.50,394.24 L360.00,394.89 L360.50,395.49 L361.00,396.03 L361.50,396.52 L362.00,396.95 L362.50,397.34 L363.00,397.69 L363.50,398.00 L364.00,398.27 L364.50,398.51 L365.00,398.72 L365.50,398.90 L366.00,399.06 L366.50,399.20 L367.00,399.32 L367.50,399.42 L368.00,399.50 L368.50,399.58 L369.00,399.64 L369.50,399.70 L370.00,399.74 L370.50,399.78 L371.00,399.82 L371.50,399.85 L372.00,399.87 L372.50,399.89 L373.00,399.91 L373.50,399.92 L374.00,399.94 L374.50,399.95 L375.00,399.95 L375.50,399.96 L376.00,399.97 L376.50,399.97 L377.00,399.98 L377.50,399.98 L378.00,399.98 L378.50,399.98 L379.00,399.98 L379.50,399.98 L380.00,399.98 L380.50,399.98 L381.00,399.98 L381.50,399.98 L382.00,399.98 L382.50,399.98 L383.00,399.97 L383.50,399.97 L384.00,399.97 L384.50,399.96 L385.00,399.96 L385.50,399.95 L386.00,399.95 L386.50,399.94 L387.00,399.94 L387.50,399.93 L388.00,399.93 L388.50,399.92 L389.00,399.91 L389.50,399.91 L390.00,399.90 L390.50,399.89 L391.00,399.89 L391.50,399.88 L392.00,399.87 L392.50,399.86 L393.00,399.86 L393.50,399.85 L394.00,399.84 L394.50,399.83 L395.00,399.82 L395.50,399.82 L396.00,399.81 L396.50,399.80 L397.00,399.79 L397.50,399.78 L398.00,399.77 L398.50,399.76 L399.00,399.75 L399.50,399.74 L400.00,399.73 L400.50,399.72 L401.00,399.71 L401.50,399.70 L402.00,399.69 L402.50,399.68 L403.00,399.67 L403.50,399.66" fill="none" stroke="#3b9be0" stroke-width="1.0"/>
<path d="M325.00,401.80 L325.50,401.77 L326.00,401.73 L326.50,401.70 L327.00,401.66 L327.50,401.62 L328.00,401.57 L328.50,401.52 L329.00,401.47 L329.50,401.42 L330.00,401.36 L330.50,401.30 L331.00,401.23 L331.50,401.16 L332.00,401.09 L332.50,401.01 L333.00,400.92 L333.50,400.83 L334.00,400.74 L334.50,400.64 L335.00,400.53 L335.50,400.42 L336.00,400.30 L336.50,400.17 L337.00,400.04 L337.50,399.90 L338.00,399.75 L338.50,399.59 L339.00,399.43 L339.50,399.26 L340.00,399.08 L340.50,398.89 L341.00,398.70 L341.50,398.49 L342.00,398.28 L342.50,398.06 L343.00,397.83 L343.50,397.60 L344.00,397.35 L344.50,397.10 L345.00,396.84 L345.50,396.58 L346.00,396.31 L346.50,396.03 L347.00,395.74 L347.50,395.46 L348.00,395.16 L348.50,394.87 L349.00,394.57 L349.50,394.27 L350.00,393.96 L350.50,393.66 L351.00,393.35 L351.50,393.05 L352.00,392.75 L352.50,392.45 L353.00,392.15 L353.50,391.86 L354.00,391.58 L354.50,391.30 L355.00,391.03 L355.50,390.77 L356.00,390.51 L356.50,390.27 L357.00,390.04 L357.50,389.82 L358.00,389.62 L358.50,389.43 L359.00,389.25 L359.50,389.09 L360.00,388.94 L360.50,388.81 L361.00,388.70 L361.50,388.60 L362.00,388.53 L362.50,388.47 L363.00,388.43 L363.50,388.41 L364.00,388.40 L364.50,388.42 L365.00,388.45 L365.50,388.50 L366.00,388.57 L366.50,388.65 L367.00,388.76 L367.50,388.87 L368.00,389.01 L368.50,389.16 L369.00,389.32 L369.50,389.50 L370.00,389.70 L370.50,389.90 L371.00,390.11 L371.50,390.34 L372.00,390.57 L372.50,390.82 L373.00,391.07 L373.50,391.33 L374.00,391.59 L374.50,391.86 L375.00,392.13 L375.50,392.40 L376.00,392.68 L376.50,392.96 L377.00,393.23 L377.50,393.51 L378.00,393.79 L378.50,394.06 L379.00,394.33 L379.50,394.59 L380.00,394.85 L380.50,395.11 L381.00,395.36 L381.50,395.60 L382.00,395.84 L382.50,396.07 L383.00,396.30 L383.50,396.51 L384.00,396.72 L384.50,396.92 L385.00,397.12 L385.50,397.30 L386.00,397.48 L386.50,397.65 L387.00,397.81 L387.50,397.96 L388.00,398.10 L388.50,398.24 L389.00,398.37 L389.50,398.49 L390.00,398.60 L390.50,398.71 L391.00,398.80 L391.50,398.90 L392.00,398.98 L392.50,399.06 L393.00,399.13 L393.50,399.20 L394.00,399.26 L394.50,399.32 L395.00,399.37 L395.50,399.42 L396.00,399.46 L396.50,399.50 L397.00,399.53 L397.50,399.56 L398.00,399.59 L398.50,399.61 L399.00,399.63 L399.50,399.65 L400.00,399.66 L400.50,399.67 L401.00,399.68 L401.50,399.69 L402.00,399.69 L402.00,399.85 L401.50,399.86 L401.00,399.87 L400.50,399.89 L400.00,399.90 L399.50,399.91 L399.00,399.93 L398.50,399.94 L398.00,399.95 L397.50,399.97 L397.00,399.98 L396.50,399.99 L396.00,400.00 L395.50,400.02 L395.00,400.03 L394.50,400.04 L394.00,400.05 L393.50,400.07 L393.00,400.08 L392.50,400.09 L392.00,400.10 L391.50,400.12 L391.00,400.13 L390.50,400.14 L390.00,400.15 L389.50,400.17 L389.00,400.18 L388.50,400.19 L388.00,400.20 L387.50,400.21 L387.00,400.23 L386.50,400.24 L386.00,400.25 L385.50,400.26 L385.00,400.27 L384.50,400.29 L384.00,400.30 L383.50,400.31 L383.00,400.32 L382.50,400.33 L382.00,400.35 L381.50,400.36 L381.00,400.37 L380.50,400.38 L380.00,400.39 L379.50,400.41 L379.00,400.42 L378.50,400.43 L378.00,400.44 L377.50,400.45 L377.00,400.47 L376.50,400.48 L376.00,400.49 L375.50,400.50 L375.00,400.51 L374.50,400.53 L374.00,400.54 L373.50,400.55 L373.00,400.56 L372.50,400.58 L372.00,400.59 L371.50,400.60 L371.00,400.61 L370.50,400.63 L370.00,400.64 L369.50,400.65 L369.00,400.66 L368.50,400.68 L368.00,400.69 L367.50,400.70 L367.00,400.71 L366.50,400.73 L366.00,400.74 L365.50,400.75 L365.00,400.77 L364.50,400.78 L364.00,400.79 L363.50,400.81 L363.00,400.82 L362.50,400.83 L362.00,400.85 L361.50,400.86 L361.00,400.87 L360.50,400.89 L360.00,400.90 L359.50,400.91 L359.00,400.93 L358.50,400.94 L358.00,400.96 L357.50,400.97 L357.00,400.98 L356.50,401.00 L356.00,401.01 L355.50,401.03 L355.00,401.04 L354.50,401.06 L354.00,401.07 L353.50,401.09 L353.00,401.10 L352.50,401.12 L352.00,401.13 L351.50,401.15 L351.00,401.16 L350.50,401.18 L350.00,401.19 L349.50,401.21 L349.00,401.22 L348.50,401.24 L348.00,401.26 L347.50,401.27 L347.00,401.29 L346.50,401.30 L346.00,401.32 L345.50,401.33 L345.00,401.35 L344.50,401.36 L344.00,401.38 L343.50,401.39 L343.00,401.41 L342.50,401.42 L342.00,401.44 L341.50,401.45 L341.00,401.47 L340.50,401.48 L340.00,401.50 L339.50,401.52 L339.00,401.53 L338.50,401.55 L338.00,401.56 L337.50,401.58 L337.00,401.59 L336.50,401.61 L336.00,401.62 L335.50,401.64 L335.00,401.65 L334.50,401.67 L334.00,401.68 L333.50,401.70 L333.00,401.71 L332.50,401.73 L332.00,401.75 L331.50,401.76 L331.00,401.78 L330.50,401.79 L330.00,401.81 L329.50,401.82 L329.00,401.84 L328.50,401.85 L328.00,401.87 L327.50,401.88 L327.00,401.90 L326.50,401.91 L326.00,401.93 L325.50,401.94 L325.00,401.96Z" fill="rgba(40,150,40,0.55)" stroke="none"/>
<path d="M325.00,401.80 L325.50,401.77 L326.00,401.73 L326.50,401.70 L327.00,401.66 L327.50,401.62 L328.00,401.57 L328.50,401.52 L329.00,401.47 L329.50,401.42 L330.00,401.36 L330.50,401.30 L331.00,401.23 L331.50,401.16 L332.00,401.09 L332.50,401.01 L333.00,400.92 L333.50,400.83 L334.00,400.74 L334.50,400.64 L335.00,400.53 L335.50,400.42 L336.00,400.30 L336.50,400.17 L337.00,400.04 L337.50,399.90 L338.00,399.75 L338.50,399.59 L339.00,399.43 L339.50,399.26 L340.00,399.08 L340.50,398.89 L341.00,398.70 L341.50,398.49 L342.00,398.28 L342.50,398.06 L343.00,397.83 L343.50,397.60 L344.00,397.35 L344.50,397.10 L345.00,396.84 L345.50,396.58 L346.00,396.31 L346.50,396.03 L347.00,395.74 L347.50,395.46 L348.00,395.16 L348.50,394.87 L349.00,394.57 L349.50,394.27 L350.00,393.96 L350.50,393.66 L351.00,393.35 L351.50,393.05 L352.00,392.75 L352.50,392.45 L353.00,392.15 L353.50,391.86 L354.00,391.58 L354.50,391.30 L355.00,391.03 L355.50,390.77 L356.00,390.51 L356.50,390.27 L357.00,390.04 L357.50,389.82 L358.00,389.62 L358.50,389.43 L359.00,389.25 L359.50,389.09 L360.00,388.94 L360.50,388.81 L361.00,388.70 L361.50,388.60 L362.00,388.53 L362.50,388.47 L363.00,388.43 L363.50,388.41 L364.00,388.40 L364.50,388.42 L365.00,388.45 L365.50,388.50 L366.00,388.57 L366.50,388.65 L367.00,388.76 L367.50,388.87 L368.00,389.01 L368.50,389.16 L369.00,389.32 L369.50,389.50 L370.00,389.70 L370.50,389.90 L371.00,390.11 L371.50,390.34 L372.00,390.57 L372.50,390.82 L373.00,391.07 L373.50,391.33 L374.00,391.59 L374.50,391.86 L375.00,392.13 L375.50,392.40 L376.00,392.68 L376.50,392.96 L377.00,393.23 L377.50,393.51 L378.00,393.79 L378.50,394.06 L379.00,394.33 L379.50,394.59 L380.00,394.85 L380.50,395.11 L381.00,395.36 L381.50,395.60 L382.00,395.84 L382.50,396.07 L383.00,396.30 L383.50,396.51 L384.00,396.72 L384.50,396.92 L385.00,397.12 L385.50,397.30 L386.00,397.48 L386.50,397.65 L387.00,397.81 L387.50,397.96 L388.00,398.10 L388.50,398.24 L389.00,398.37 L389.50,398.49 L390.00,398.60 L390.50,398.71 L391.00,398.80 L391.50,398.90 L392.00,398.98 L392.50,399.06 L393.00,399.13 L393.50,399.20 L394.00,399.26 L394.50,399.32 L395.00,399.37 L395.50,399.42 L396.00,399.46 L396.50,399.50 L397.00,399.53 L397.50,399.56 L398.00,399.59 L398.50,399.61 L399.00,399.63 L399.50,399.65 L400.00,399.66 L400.50,399.67 L401.00,399.68 L401.50,399.69 L402.00,399.69" fill="none" stroke="#2e8b3a" stroke-width="1.0"/>
<path d="M337.50,401.42 L338.00,401.40 L338.50,401.37 L339.00,401.35 L339.50,401.32 L340.00,401.29 L340.50,401.26 L341.00,401.23 L341.50,401.20 L342.00,401.17 L342.50,401.14 L343.00,401.11 L343.50,401.08 L344.00,401.04 L344.50,401.01 L345.00,400.97 L345.50,400.93 L346.00,400.89 L346.50,400.85 L347.00,400.81 L347.50,400.77 L348.00,400.73 L348.50,400.68 L349.00,400.64 L349.50,400.59 L350.00,400.54 L350.50,400.49 L351.00,400.44 L351.50,400.39 L352.00,400.34 L352.50,400.28 L353.00,400.22 L353.50,400.17 L354.00,400.11 L354.50,400.04 L355.00,399.98 L355.50,399.92 L356.00,399.85 L356.50,399.78 L357.00,399.71 L357.50,399.64 L358.00,399.57 L358.50,399.49 L359.00,399.41 L359.50,399.33 L360.00,399.25 L360.50,399.17 L361.00,399.09 L361.50,399.00 L362.00,398.91 L362.50,398.82 L363.00,398.73 L363.50,398.63 L364.00,398.54 L364.50,398.44 L365.00,398.34 L365.50,398.24 L366.00,398.13 L366.50,398.03 L367.00,397.92 L367.50,397.81 L368.00,397.70 L368.50,397.59 L369.00,397.48 L369.50,397.36 L370.00,397.24 L370.50,397.13 L371.00,397.01 L371.50,396.88 L372.00,396.76 L372.50,396.64 L373.00,396.51 L373.50,396.39 L374.00,396.26 L374.50,396.13 L375.00,396.01 L375.50,395.88 L376.00,395.75 L376.50,395.62 L377.00,395.49 L377.50,395.36 L378.00,395.23 L378.50,395.10 L379.00,394.96 L379.50,394.83 L380.00,394.71 L380.50,394.58 L381.00,394.45 L381.50,394.32 L382.00,394.19 L382.50,394.07 L383.00,393.94 L383.50,393.82 L384.00,393.70 L384.50,393.58 L385.00,393.46 L385.50,393.34 L386.00,393.23 L386.50,393.11 L387.00,393.00 L387.50,392.90 L388.00,392.79 L388.50,392.69 L389.00,392.59 L389.50,392.49 L390.00,392.40 L390.50,392.31 L391.00,392.22 L391.50,392.13 L392.00,392.05 L392.50,391.98 L393.00,391.90 L393.50,391.83 L394.00,391.77 L394.50,391.71 L395.00,391.65 L395.50,391.59 L396.00,391.54 L396.50,391.50 L397.00,391.46 L397.50,391.42 L398.00,391.39 L398.50,391.36 L399.00,391.34 L399.50,391.32 L400.00,391.30 L400.50,391.29 L401.00,391.28 L401.50,391.27 L402.00,391.26 L402.50,391.25 L403.00,391.24 L403.50,391.24 L404.00,391.24 L404.50,391.23 L405.00,391.23 L405.50,391.23 L406.00,391.23 L406.50,391.24 L407.00,391.24 L407.50,391.25 L408.00,391.25 L408.50,391.26 L409.00,391.27 L409.50,391.28 L410.00,391.29 L410.50,391.30 L411.00,391.31 L411.50,391.33 L412.00,391.34 L412.50,391.36 L413.00,391.38 L413.50,391.40 L414.00,391.42 L414.50,391.44 L415.00,391.46 L415.50,391.48 L416.00,391.51 L416.50,391.53 L417.00,391.56 L417.50,391.59 L418.00,391.61 L418.50,391.64 L419.00,391.67 L419.50,391.70 L420.00,391.73 L420.50,391.77 L421.00,391.80 L421.50,391.83 L422.00,391.87 L422.50,391.90 L423.00,391.94 L423.50,391.98 L424.00,392.01 L424.50,392.05 L425.00,392.09 L425.50,392.13 L426.00,392.17 L426.50,392.21 L427.00,392.25 L427.50,392.30 L428.00,392.34 L428.50,392.38 L429.00,392.43 L429.50,392.47 L430.00,392.51 L430.50,392.56 L431.00,392.60 L431.50,392.65 L432.00,392.70 L432.50,392.74 L433.00,392.79 L433.50,392.84 L434.00,392.88 L434.50,392.93 L435.00,392.98 L435.50,393.03 L436.00,393.07 L436.50,393.12 L437.00,393.17 L437.50,393.22 L438.00,393.27 L438.50,393.32 L439.00,393.36 L439.50,393.41 L440.00,393.46 L440.50,393.51 L441.00,393.56 L441.50,393.61 L442.00,393.66 L442.50,393.71 L443.00,393.75 L443.50,393.80 L444.00,393.85 L444.50,393.90 L445.00,393.95 L445.50,393.99 L446.00,394.04 L446.50,394.09 L447.00,394.14 L447.50,394.18 L448.00,394.23 L448.50,394.28 L449.00,394.32 L449.50,394.37 L450.00,394.41 L450.50,394.46 L451.00,394.50 L451.50,394.55 L452.00,394.59 L452.50,394.63 L453.00,394.68 L453.50,394.72 L454.00,394.76 L454.50,394.80 L455.00,394.85 L455.50,394.89 L456.00,394.93 L456.50,394.97 L457.00,395.01 L457.50,395.05 L458.00,395.08 L458.50,395.12 L459.00,395.16 L459.50,395.20 L460.00,395.23 L460.50,395.27 L461.00,395.30 L461.50,395.34 L462.00,395.37 L462.50,395.40 L463.00,395.43 L463.50,395.47 L464.00,395.50 L464.50,395.53 L465.00,395.55 L465.50,395.58 L466.00,395.61 L466.50,395.64 L467.00,395.66 L467.50,395.69 L468.00,395.71 L468.50,395.73 L469.00,395.76 L469.50,395.78 L470.00,395.80 L470.50,395.82 L471.00,395.84 L471.50,395.85 L472.00,395.87 L472.50,395.88 L473.00,395.90 L473.50,395.91 L474.00,395.92 L474.50,395.93 L475.00,395.95 L475.50,395.95 L476.00,395.96 L476.50,395.97 L477.00,395.98 L477.50,395.98 L478.00,395.99 L478.50,395.99 L479.00,395.99 L479.50,395.99 L480.00,396.00 L480.50,396.00 L481.00,396.00 L481.50,395.99 L482.00,395.99 L482.50,395.99 L483.00,395.99 L483.50,395.98 L484.00,395.98 L484.50,395.97 L485.00,395.96 L485.50,395.96 L486.00,395.95 L486.00,396.90 L485.50,396.93 L485.00,396.97 L484.50,397.00 L484.00,397.03 L483.50,397.06 L483.00,397.09 L482.50,397.12 L482.00,397.16 L481.50,397.19 L481.00,397.22 L480.50,397.25 L480.00,397.28 L479.50,397.31 L479.00,397.34 L478.50,397.37 L478.00,397.39 L477.50,397.42 L477.00,397.45 L476.50,397.48 L476.00,397.51 L475.50,397.53 L475.00,397.56 L474.50,397.59 L474.00,397.61 L473.50,397.64 L473.00,397.66 L472.50,397.69 L472.00,397.71 L471.50,397.73 L471.00,397.76 L470.50,397.78 L470.00,397.80 L469.50,397.82 L469.00,397.84 L468.50,397.86 L468.00,397.88 L467.50,397.90 L467.00,397.92 L466.50,397.94 L466.00,397.96 L465.50,397.98 L465.00,398.00 L464.50,398.02 L464.00,398.04 L463.50,398.06 L463.00,398.08 L462.50,398.09 L462.00,398.11 L461.50,398.13 L461.00,398.15 L460.50,398.16 L460.00,398.18 L459.50,398.20 L459.00,398.21 L458.50,398.23 L458.00,398.25 L457.50,398.26 L457.00,398.28 L456.50,398.29 L456.00,398.31 L455.50,398.33 L455.00,398.34 L454.50,398.36 L454.00,398.37 L453.50,398.39 L453.00,398.41 L452.50,398.42 L452.00,398.44 L451.50,398.45 L451.00,398.47 L450.50,398.48 L450.00,398.50 L449.50,398.52 L449.00,398.53 L448.50,398.55 L448.00,398.56 L447.50,398.58 L447.00,398.59 L446.50,398.61 L446.00,398.62 L445.50,398.64 L445.00,398.66 L444.50,398.67 L444.00,398.69 L443.50,398.70 L443.00,398.72 L442.50,398.73 L442.00,398.75 L441.50,398.76 L441.00,398.78 L440.50,398.79 L440.00,398.81 L439.50,398.82 L439.00,398.84 L438.50,398.85 L438.00,398.86 L437.50,398.88 L437.00,398.89 L436.50,398.91 L436.00,398.92 L435.50,398.94 L435.00,398.95 L434.50,398.97 L434.00,398.98 L433.50,398.99 L433.00,399.01 L432.50,399.02 L432.00,399.04 L431.50,399.05 L431.00,399.07 L430.50,399.08 L430.00,399.09 L429.50,399.11 L429.00,399.12 L428.50,399.14 L428.00,399.15 L427.50,399.16 L427.00,399.18 L426.50,399.19 L426.00,399.21 L425.50,399.22 L425.00,399.23 L424.50,399.25 L424.00,399.26 L423.50,399.27 L423.00,399.29 L422.50,399.30 L422.00,399.31 L421.50,399.33 L421.00,399.34 L420.50,399.36 L420.00,399.37 L419.50,399.38 L419.00,399.40 L418.50,399.41 L418.00,399.42 L417.50,399.44 L417.00,399.45 L416.50,399.46 L416.00,399.48 L415.50,399.49 L415.00,399.50 L414.50,399.52 L414.00,399.53 L413.50,399.54 L413.00,399.56 L412.50,399.57 L412.00,399.58 L411.50,399.60 L411.00,399.61 L410.50,399.62 L410.00,399.64 L409.50,399.65 L409.00,399.66 L408.50,399.68 L408.00,399.69 L407.50,399.70 L407.00,399.72 L406.50,399.73 L406.00,399.74 L405.50,399.76 L405.00,399.77 L404.50,399.78 L404.00,399.79 L403.50,399.81 L403.00,399.82 L402.50,399.83 L402.00,399.85 L401.50,399.86 L401.00,399.87 L400.50,399.89 L400.00,399.90 L399.50,399.91 L399.00,399.93 L398.50,399.94 L398.00,399.95 L397.50,399.97 L397.00,399.98 L396.50,399.99 L396.00,400.00 L395.50,400.02 L395.00,400.03 L394.50,400.04 L394.00,400.05 L393.50,400.07 L393.00,400.08 L392.50,400.09 L392.00,400.10 L391.50,400.12 L391.00,400.13 L390.50,400.14 L390.00,400.15 L389.50,400.17 L389.00,400.18 L388.50,400.19 L388.00,400.20 L387.50,400.21 L387.00,400.23 L386.50,400.24 L386.00,400.25 L385.50,400.26 L385.00,400.27 L384.50,400.29 L384.00,400.30 L383.50,400.31 L383.00,400.32 L382.50,400.33 L382.00,400.35 L381.50,400.36 L381.00,400.37 L380.50,400.38 L380.00,400.39 L379.50,400.41 L379.00,400.42 L378.50,400.43 L378.00,400.44 L377.50,400.45 L377.00,400.47 L376.50,400.48 L376.00,400.49 L375.50,400.50 L375.00,400.51 L374.50,400.53 L374.00,400.54 L373.50,400.55 L373.00,400.56 L372.50,400.58 L372.00,400.59 L371.50,400.60 L371.00,400.61 L370.50,400.63 L370.00,400.64 L369.50,400.65 L369.00,400.66 L368.50,400.68 L368.00,400.69 L367.50,400.70 L367.00,400.71 L366.50,400.73 L366.00,400.74 L365.50,400.75 L365.00,400.77 L364.50,400.78 L364.00,400.79 L363.50,400.81 L363.00,400.82 L362.50,400.83 L362.00,400.85 L361.50,400.86 L361.00,400.87 L360.50,400.89 L360.00,400.90 L359.50,400.91 L359.00,400.93 L358.50,400.94 L358.00,400.96 L357.50,400.97 L357.00,400.98 L356.50,401.00 L356.00,401.01 L355.50,401.03 L355.00,401.04 L354.50,401.06 L354.00,401.07 L353.50,401.09 L353.00,401.10 L352.50,401.12 L352.00,401.13 L351.50,401.15 L351.00,401.16 L350.50,401.18 L350.00,401.19 L349.50,401.21 L349.00,401.22 L348.50,401.24 L348.00,401.26 L347.50,401.27 L347.00,401.29 L346.50,401.30 L346.00,401.32 L345.50,401.33 L345.00,401.35 L344.50,401.36 L344.00,401.38 L343.50,401.39 L343.00,401.41 L342.50,401.42 L342.00,401.44 L341.50,401.45 L341.00,401.47 L340.50,401.48 L340.00,401.50 L339.50,401.52 L339.00,401.53 L338.50,401.55 L338.00,401.56 L337.50,401.58Z" fill="rgba(240,60,160,0.78)" stroke="none"/>
<path d="M337.50,401.42 L338.00,401.40 L338.50,401.37 L339.00,401.35 L339.50,401.32 L340.00,401.29 L340.50,401.26 L341.00,401.23 L341.50,401.20 L342.00,401.17 L342.50,401.14 L343.00,401.11 L343.50,401.08 L344.00,401.04 L344.50,401.01 L345.00,400.97 L345.50,400.93 L346.00,400.89 L346.50,400.85 L347.00,400.81 L347.50,400.77 L348.00,400.73 L348.50,400.68 L349.00,400.64 L349.50,400.59 L350.00,400.54 L350.50,400.49 L351.00,400.44 L351.50,400.39 L352.00,400.34 L352.50,400.28 L353.00,400.22 L353.50,400.17 L354.00,400.11 L354.50,400.04 L355.00,399.98 L355.50,399.92 L356.00,399.85 L356.50,399.78 L357.00,399.71 L357.50,399.64 L358.00,399.57 L358.50,399.49 L359.00,399.41 L359.50,399.33 L360.00,399.25 L360.50,399.17 L361.00,399.09 L361.50,399.00 L362.00,398.91 L362.50,398.82 L363.00,398.73 L363.50,398.63 L364.00,398.54 L364.50,398.44 L365.00,398.34 L365.50,398.24 L366.00,398.13 L366.50,398.03 L367.00,397.92 L367.50,397.81 L368.00,397.70 L368.50,397.59 L369.00,397.48 L369.50,397.36 L370.00,397.24 L370.50,397.13 L371.00,397.01 L371.50,396.88 L372.00,396.76 L372.50,396.64 L373.00,396.51 L373.50,396.39 L374.00,396.26 L374.50,396.13 L375.00,396.01 L375.50,395.88 L376.00,395.75 L376.50,395.62 L377.00,395.49 L377.50,395.36 L378.00,395.23 L378.50,395.10 L379.00,394.96 L379.50,394.83 L380.00,394.71 L380.50,394.58 L381.00,394.45 L381.50,394.32 L382.00,394.19 L382.50,394.07 L383.00,393.94 L383.50,393.82 L384.00,393.70 L384.50,393.58 L385.00,393.46 L385.50,393.34 L386.00,393.23 L386.50,393.11 L387.00,393.00 L387.50,392.90 L388.00,392.79 L388.50,392.69 L389.00,392.59 L389.50,392.49 L390.00,392.40 L390.50,392.31 L391.00,392.22 L391.50,392.13 L392.00,392.05 L392.50,391.98 L393.00,391.90 L393.50,391.83 L394.00,391.77 L394.50,391.71 L395.00,391.65 L395.50,391.59 L396.00,391.54 L396.50,391.50 L397.00,391.46 L397.50,391.42 L398.00,391.39 L398.50,391.36 L399.00,391.34 L399.50,391.32 L400.00,391.30 L400.50,391.29 L401.00,391.28 L401.50,391.27 L402.00,391.26 L402.50,391.25 L403.00,391.24 L403.50,391.24 L404.00,391.24 L404.50,391.23 L405.00,391.23 L405.50,391.23 L406.00,391.23 L406.50,391.24 L407.00,391.24 L407.50,391.25 L408.00,391.25 L408.50,391.26 L409.00,391.27 L409.50,391.28 L410.00,391.29 L410.50,391.30 L411.00,391.31 L411.50,391.33 L412.00,391.34 L412.50,391.36 L413.00,391.38 L413.50,391.40 L414.00,391.42 L414.50,391.44 L415.00,391.46 L415.50,391.48 L416.00,391.51 L416.50,391.53 L417.00,391.56 L417.50,391.59 L418.00,391.61 L418.50,391.64 L419.00,391.67 L419.50,391.70 L420.00,391.73 L420.50,391.77 L421.00,391.80 L421.50,391.83 L422.00,391.87 L422.50,391.90 L423.00,391.94 L423.50,391.98 L424.00,392.01 L424.50,392.05 L425.00,392.09 L425.50,392.13 L426.00,392.17 L426.50,392.21 L427.00,392.25 L427.50,392.30 L428.00,392.34 L428.50,392.38 L429.00,392.43 L429.50,392.47 L430.00,392.51 L430.50,392.56 L431.00,392.60 L431.50,392.65 L432.00,392.70 L432.50,392.74 L433.00,392.79 L433.50,392.84 L434.00,392.88 L434.50,392.93 L435.00,392.98 L435.50,393.03 L436.00,393.07 L436.50,393.12 L437.00,393.17 L437.50,393.22 L438.00,393.27 L438.50,393.32 L439.00,393.36 L439.50,393.41 L440.00,393.46 L440.50,393.51 L441.00,393.56 L441.50,393.61 L442.00,393.66 L442.50,393.71 L443.00,393.75 L443.50,393.80 L444.00,393.85 L444.50,393.90 L445.00,393.95 L445.50,393.99 L446.00,394.04 L446.50,394.09 L447.00,394.14 L447.50,394.18 L448.00,394.23 L448.50,394.28 L449.00,394.32 L449.50,394.37 L450.00,394.41 L450.50,394.46 L451.00,394.50 L451.50,394.55 L452.00,394.59 L452.50,394.63 L453.00,394.68 L453.50,394.72 L454.00,394.76 L454.50,394.80 L455.00,394.85 L455.50,394.89 L456.00,394.93 L456.50,394.97 L457.00,395.01 L457.50,395.05 L458.00,395.08 L458.50,395.12 L459.00,395.16 L459.50,395.20 L460.00,395.23 L460.50,395.27 L461.00,395.30 L461.50,395.34 L462.00,395.37 L462.50,395.40 L463.00,395.43 L463.50,395.47 L464.00,395.50 L464.50,395.53 L465.00,395.55 L465.50,395.58 L466.00,395.61 L466.50,395.64 L467.00,395.66 L467.50,395.69 L468.00,395.71 L468.50,395.73 L469.00,395.76 L469.50,395.78 L470.00,395.80 L470.50,395.82 L471.00,395.84 L471.50,395.85 L472.00,395.87 L472.50,395.88 L473.00,395.90 L473.50,395.91 L474.00,395.92 L474.50,395.93 L475.00,395.95 L475.50,395.95 L476.00,395.96 L476.50,395.97 L477.00,395.98 L477.50,395.98 L478.00,395.99 L478.50,395.99 L479.00,395.99 L479.50,395.99 L480.00,396.00 L480.50,396.00 L481.00,396.00 L481.50,395.99 L482.00,395.99 L482.50,395.99 L483.00,395.99 L483.50,395.98 L484.00,395.98 L484.50,395.97 L485.00,395.96 L485.50,395.96 L486.00,395.95" fill="none" stroke="#e0409a" stroke-width="1.0"/>
<path d="M288.50,402.88 L289.00,402.87 L289.50,402.86 L290.00,402.84 L290.50,402.83 L291.00,402.82 L291.50,402.81 L292.00,402.80 L292.50,402.79 L293.00,402.78 L293.50,402.77 L294.00,402.76 L294.50,402.74 L295.00,402.73 L295.50,402.72 L296.00,402.71 L296.50,402.70 L297.00,402.69 L297.50,402.67 L298.00,402.66 L298.50,402.65 L299.00,402.64 L299.50,402.63 L300.00,402.61 L300.50,402.60 L301.00,402.59 L301.50,402.58 L302.00,402.57 L302.50,402.55 L303.00,402.54 L303.50,402.53 L304.00,402.52 L304.50,402.50 L305.00,402.49 L305.50,402.48 L306.00,402.47 L306.50,402.45 L307.00,402.44 L307.50,402.43 L308.00,402.42 L308.50,402.40 L309.00,402.39 L309.50,402.38 L310.00,402.37 L310.50,402.35 L311.00,402.34 L311.50,402.33 L312.00,402.31 L312.50,402.30 L313.00,402.29 L313.50,402.27 L314.00,402.26 L314.50,402.25 L315.00,402.23 L315.50,402.22 L316.00,402.21 L316.50,402.19 L317.00,402.18 L317.50,402.17 L318.00,402.15 L318.50,402.14 L319.00,402.13 L319.50,402.11 L320.00,402.10 L320.50,402.09 L321.00,402.07 L321.50,402.06 L322.00,402.04 L322.50,402.03 L323.00,402.02 L323.50,402.00 L324.00,401.99 L324.50,401.97 L325.00,401.96 L325.50,401.94 L326.00,401.93 L326.50,401.91 L327.00,401.90 L327.50,401.88 L328.00,401.87 L328.50,401.85 L329.00,401.84 L329.50,401.82 L330.00,401.81 L330.50,401.79 L331.00,401.78 L331.50,401.76 L332.00,401.75 L332.50,401.73 L333.00,401.71 L333.50,401.70 L334.00,401.68 L334.50,401.67 L335.00,401.65 L335.50,401.64 L336.00,401.62 L336.50,401.61 L337.00,401.59 L337.50,401.58 L338.00,401.56 L338.50,401.55 L339.00,401.53 L339.50,401.52 L340.00,401.50 L340.50,401.48 L341.00,401.47 L341.50,401.45 L342.00,401.44 L342.50,401.42 L343.00,401.41 L343.50,401.39 L344.00,401.38 L344.50,401.36 L345.00,401.35 L345.50,401.33 L346.00,401.32 L346.50,401.30 L347.00,401.29 L347.50,401.27 L348.00,401.26 L348.50,401.24 L349.00,401.22 L349.50,401.21 L350.00,401.19 L350.50,401.18 L351.00,401.16 L351.50,401.15 L352.00,401.13 L352.50,401.12 L353.00,401.10 L353.50,401.09 L354.00,401.07 L354.50,401.06 L355.00,401.04 L355.50,401.03 L356.00,401.01 L356.50,401.00 L357.00,400.98 L357.50,400.97 L358.00,400.96 L358.50,400.94 L359.00,400.93 L359.50,400.91 L360.00,400.90 L360.50,400.89 L361.00,400.87 L361.50,400.86 L362.00,400.85 L362.50,400.83 L363.00,400.82 L363.50,400.81 L364.00,400.79 L364.50,400.78 L365.00,400.77 L365.50,400.75 L366.00,400.74 L366.50,400.73 L367.00,400.71 L367.50,400.70 L368.00,400.69 L368.50,400.68 L369.00,400.66 L369.50,400.65 L370.00,400.64 L370.50,400.63 L371.00,400.61 L371.50,400.60 L372.00,400.59 L372.50,400.58 L373.00,400.56 L373.50,400.55 L374.00,400.54 L374.50,400.53 L375.00,400.51 L375.50,400.50 L376.00,400.49 L376.50,400.48 L377.00,400.47 L377.50,400.45 L378.00,400.44 L378.50,400.43 L379.00,400.42 L379.50,400.41 L380.00,400.39 L380.50,400.38 L381.00,400.37 L381.50,400.36 L382.00,400.35 L382.50,400.33 L383.00,400.32 L383.50,400.31 L384.00,400.30 L384.50,400.29 L385.00,400.27 L385.50,400.26 L386.00,400.25 L386.50,400.24 L387.00,400.23 L387.50,400.21 L388.00,400.20 L388.50,400.19 L389.00,400.18 L389.50,400.17 L390.00,400.15 L390.50,400.14 L391.00,400.13 L391.50,400.12 L392.00,400.10 L392.50,400.09 L393.00,400.08 L393.50,400.07 L394.00,400.05 L394.50,400.04 L395.00,400.03 L395.50,400.02 L396.00,400.00 L396.50,399.99 L397.00,399.98 L397.50,399.97 L398.00,399.95 L398.50,399.94 L399.00,399.93 L399.50,399.91 L400.00,399.90 L400.50,399.89 L401.00,399.87 L401.50,399.86 L402.00,399.85 L402.50,399.83 L403.00,399.82 L403.50,399.81 L404.00,399.79 L404.50,399.78 L405.00,399.77 L405.50,399.76 L406.00,399.74 L406.50,399.73 L407.00,399.72 L407.50,399.70 L408.00,399.69 L408.50,399.68 L409.00,399.66 L409.50,399.65 L410.00,399.64 L410.50,399.62 L411.00,399.61 L411.50,399.60 L412.00,399.58 L412.50,399.57 L413.00,399.56 L413.50,399.54 L414.00,399.53 L414.50,399.52 L415.00,399.50 L415.50,399.49 L416.00,399.48 L416.50,399.46 L417.00,399.45 L417.50,399.44 L418.00,399.42 L418.50,399.41 L419.00,399.40 L419.50,399.38 L420.00,399.37 L420.50,399.36 L421.00,399.34 L421.50,399.33 L422.00,399.31 L422.50,399.30 L423.00,399.29 L423.50,399.27 L424.00,399.26 L424.50,399.25 L425.00,399.23 L425.50,399.22 L426.00,399.21 L426.50,399.19 L427.00,399.18 L427.50,399.16 L428.00,399.15 L428.50,399.14 L429.00,399.12 L429.50,399.11 L430.00,399.09 L430.50,399.08 L431.00,399.07 L431.50,399.05 L432.00,399.04 L432.50,399.02 L433.00,399.01 L433.50,398.99 L434.00,398.98 L434.50,398.97 L435.00,398.95 L435.50,398.94 L436.00,398.92 L436.50,398.91 L437.00,398.89 L437.50,398.88 L438.00,398.86 L438.50,398.85 L439.00,398.84 L439.50,398.82 L440.00,398.81 L440.50,398.79 L441.00,398.78 L441.50,398.76 L442.00,398.75 L442.50,398.73 L443.00,398.72 L443.50,398.70 L444.00,398.69 L444.50,398.67 L445.00,398.66 L445.50,398.64 L446.00,398.62 L446.50,398.61 L447.00,398.59 L447.50,398.58 L448.00,398.56 L448.50,398.55 L449.00,398.53 L449.50,398.52 L450.00,398.50 L450.50,398.48 L451.00,398.47 L451.50,398.45 L452.00,398.44 L452.50,398.42 L453.00,398.41 L453.50,398.39 L454.00,398.37 L454.50,398.36 L455.00,398.34 L455.50,398.33 L456.00,398.31 L456.50,398.29 L457.00,398.28 L457.50,398.26 L458.00,398.25 L458.50,398.23 L459.00,398.21 L459.50,398.20 L460.00,398.18 L460.50,398.16 L461.00,398.15 L461.50,398.13 L462.00,398.11 L462.50,398.09 L463.00,398.08 L463.50,398.06 L464.00,398.04 L464.50,398.02 L465.00,398.00 L465.50,397.98 L466.00,397.96 L466.50,397.94 L467.00,397.92 L467.50,397.90 L468.00,397.88 L468.50,397.86 L469.00,397.84 L469.50,397.82 L470.00,397.80 L470.50,397.78 L471.00,397.76 L471.50,397.73 L472.00,397.71 L472.50,397.69 L473.00,397.66 L473.50,397.64 L474.00,397.61 L474.50,397.59 L475.00,397.56 L475.50,397.53 L476.00,397.51 L476.50,397.48 L477.00,397.45 L477.50,397.42 L478.00,397.39 L478.50,397.37 L479.00,397.34 L479.50,397.31 L480.00,397.28 L480.50,397.25 L481.00,397.22 L481.50,397.19 L482.00,397.16 L482.50,397.12 L483.00,397.09 L483.50,397.06 L484.00,397.03 L484.50,397.00 L485.00,396.97 L485.50,396.93 L486.00,396.90" fill="none" stroke="#000" stroke-width="1.3"/>
<path d="M288.50,402.90 L288.90,402.90 L289.30,402.90 L289.70,402.90 L290.10,402.90 L290.50,402.90 L290.90,402.90 L291.30,402.90 L291.70,402.89 L292.10,402.89 L292.50,402.89 L292.90,402.89 L293.30,402.89 L293.70,402.89 L294.10,402.89 L294.50,402.89 L294.90,402.88 L295.30,402.88 L295.70,402.88 L296.10,402.88 L296.50,402.88 L296.90,402.87 L297.30,402.87 L297.70,402.87 L298.10,402.87 L298.50,402.86 L298.90,402.86 L299.30,402.86 L299.70,402.85 L300.10,402.85 L300.50,402.85 L300.90,402.84 L301.30,402.84 L301.70,402.84 L302.10,402.83 L302.50,402.83 L302.90,402.82 L303.30,402.82 L303.70,402.82 L304.10,402.81 L304.50,402.81 L304.90,402.80 L305.30,402.79 L305.70,402.78 L306.10,402.77 L306.50,402.75 L306.90,402.72 L307.30,402.69 L307.70,402.66 L308.10,402.62 L308.50,402.58 L308.90,402.53 L309.30,402.49 L309.70,402.44 L310.10,402.39 L310.50,402.33 L310.90,402.28 L311.30,402.22 L311.70,402.16 L312.10,402.10 L312.50,402.04 L312.90,401.98 L313.30,401.92 L313.70,401.85 L314.10,401.78 L314.50,401.69 L314.90,401.60 L315.30,401.51 L315.70,401.40 L316.10,401.29 L316.50,401.17 L316.90,401.03 L317.30,400.89 L317.70,400.72 L318.10,400.52 L318.50,400.29 L318.90,400.05 L319.30,399.79 L319.70,399.51 L320.10,399.21 L320.50,398.90 L320.90,398.57 L321.30,398.20 L321.70,397.81 L322.10,397.38 L322.50,396.92 L322.90,396.43 L323.30,395.91 L323.70,395.35 L324.10,394.76 L324.50,394.14 L324.90,393.40 L325.30,392.54 L325.70,391.62 L326.10,390.66 L326.50,389.73 L326.90,388.88 L327.30,388.10 L327.70,387.13 L328.10,385.63 L328.50,383.01 L328.90,379.57 L329.30,375.73 L329.70,371.90 L330.10,368.27 L330.50,364.45 L330.90,360.51 L331.30,356.50 L331.70,352.75 L332.10,349.37 L332.50,345.44 L332.90,340.00 L333.30,328.04 L333.70,313.80 L334.10,305.89 L334.50,299.86 L334.90,294.85 L335.30,290.32 L335.70,285.93 L336.10,281.86 L336.50,278.07 L336.90,274.51 L337.30,271.13 L337.70,267.89 L338.10,264.67 L338.50,261.44 L338.90,258.59 L339.30,256.50 L339.70,254.93 L340.10,253.73 L340.50,253.43 L340.90,254.13 L341.30,255.41 L341.70,256.88 L342.10,258.81 L342.50,261.27 L342.90,264.09 L343.30,267.10 L343.70,270.44 L344.10,274.26 L344.50,278.40 L344.90,282.72 L345.30,287.07 L345.70,291.33 L346.10,295.68 L346.50,300.12 L346.90,304.62 L347.30,309.14 L347.70,313.69 L348.10,318.41 L348.50,323.23 L348.90,328.02 L349.30,332.65 L349.70,337.00 L350.10,340.96 L350.50,344.86 L350.90,348.61 L351.30,351.93 L351.70,354.51 L352.10,356.32 L352.50,357.91 L352.90,359.32 L353.30,360.58 L353.70,361.71 L354.10,362.74 L354.50,363.69 L354.90,364.59 L355.30,365.46 L355.70,366.33 L356.10,367.18 L356.50,367.99 L356.90,368.78 L357.30,369.54 L357.70,370.26 L358.10,370.96 L358.50,371.63 L358.90,372.27 L359.30,372.88 L359.70,373.45 L360.10,374.77 L360.50,374.68 L360.90,374.56 L361.30,375.29 L361.70,376.36 L362.10,375.83 L362.50,376.67 L362.90,377.02 L363.30,378.26 L363.70,377.77 L364.10,378.69 L364.50,378.34 L364.90,378.63 L365.30,379.59 L365.70,379.77 L366.10,379.26 L366.50,380.39 L366.90,380.68 L367.30,380.54 L367.70,381.11 L368.10,381.41 L368.50,381.43 L368.90,381.68 L369.30,381.93 L369.70,382.36 L370.10,382.27 L370.50,383.00 L370.90,382.77 L371.30,383.59 L371.70,383.80 L372.10,383.73 L372.50,384.64 L372.90,385.26 L373.30,385.28 L373.70,384.57 L374.10,385.70 L374.50,385.52 L374.90,385.61 L375.30,385.59 L375.70,385.94 L376.10,386.56 L376.50,386.38 L376.90,386.14 L377.30,386.15 L377.70,386.33 L378.10,386.77 L378.50,387.29 L378.90,386.36 L379.30,386.80 L379.70,386.74 L380.10,386.69 L380.50,387.15 L380.90,387.27 L381.30,386.65 L381.70,386.84 L382.10,387.67 L382.50,387.42 L382.90,387.55 L383.30,387.24 L383.70,387.34 L384.10,387.68 L384.50,387.39 L384.90,387.23 L385.30,387.66 L385.70,388.01 L386.10,387.39 L386.50,388.15 L386.90,388.07 L387.30,387.57 L387.70,387.91 L388.10,387.93 L388.50,388.20 L388.90,388.25 L389.30,387.60 L389.70,387.62 L390.10,388.48 L390.50,388.19 L390.90,388.33 L391.30,388.33 L391.70,388.77 L392.10,387.85 L392.50,388.68 L392.90,388.05 L393.30,388.61 L393.70,388.85 L394.10,387.94 L394.50,388.59 L394.90,388.38 L395.30,388.41 L395.70,388.56 L396.10,388.22 L396.50,388.28 L396.90,388.88 L397.30,388.98 L397.70,388.52 L398.10,388.25 L398.50,389.59 L398.90,389.20 L399.30,388.98 L399.70,388.54 L400.10,388.73 L400.50,389.05 L400.90,388.67 L401.30,389.59 L401.70,389.12 L402.10,389.25 L402.50,388.79 L402.90,388.87 L403.30,388.95 L403.70,389.35 L404.10,389.20 L404.50,389.23 L404.90,389.47 L405.30,389.48 L405.70,389.95 L406.10,389.41 L406.50,389.16 L406.90,389.55 L407.30,390.09 L407.70,389.43 L408.10,389.68 L408.50,389.58 L408.90,389.88 L409.30,389.86 L409.70,389.53 L410.10,389.77 L410.50,390.21 L410.90,390.31 L411.30,390.28 L411.70,390.30 L412.10,389.93 L412.50,389.96 L412.90,390.44 L413.30,389.76 L413.70,390.18 L414.10,389.60 L414.50,390.15 L414.90,390.07 L415.30,389.94 L415.70,390.59 L416.10,390.18 L416.50,390.35 L416.90,390.42 L417.30,390.30 L417.70,391.08 L418.10,390.46 L418.50,390.74 L418.90,390.26 L419.30,390.59 L419.70,390.68 L420.10,390.73 L420.50,390.67 L420.90,390.96 L421.30,391.47 L421.70,390.95 L422.10,390.99 L422.50,390.95 L422.90,391.94 L423.30,391.67 L423.70,391.38 L424.10,391.46 L424.50,391.06 L424.90,391.28 L425.30,391.43 L425.70,391.45 L426.10,391.20 L426.50,391.26 L426.90,391.69 L427.30,391.67 L427.70,391.02 L428.10,391.69 L428.50,392.07 L428.90,391.57 L429.30,391.86 L429.70,391.44 L430.10,392.11 L430.50,391.63 L430.90,391.64 L431.30,391.93 L431.70,392.67 L432.10,391.95 L432.50,391.83 L432.90,392.31 L433.30,392.30 L433.70,392.69 L434.10,392.03 L434.50,392.01 L434.90,392.36 L435.30,392.57 L435.70,392.61 L436.10,392.82 L436.50,392.29 L436.90,392.49 L437.30,392.69 L437.70,392.95 L438.10,392.92 L438.50,392.78 L438.90,392.71 L439.30,393.14 L439.70,393.20 L440.10,393.60 L440.50,393.08 L440.90,393.48 L441.30,392.97 L441.70,393.15 L442.10,393.17 L442.50,393.26 L442.90,393.23 L443.30,393.34 L443.70,393.48 L444.10,393.45 L444.50,393.71 L444.90,393.61 L445.30,393.67 L445.70,394.01 L446.10,393.82 L446.50,393.84 L446.90,393.84 L447.30,393.90 L447.70,394.05 L448.10,393.82 L448.50,394.24 L448.90,394.37 L449.30,394.33 L449.70,394.05 L450.10,393.88 L450.50,394.15 L450.90,394.30 L451.30,394.48 L451.70,394.32 L452.10,394.34 L452.50,394.74 L452.90,394.35 L453.30,394.73 L453.70,394.74 L454.10,394.34 L454.50,394.70 L454.90,394.57 L455.30,394.54 L455.70,394.40 L456.10,394.49 L456.50,394.92 L456.90,394.80 L457.30,394.97 L457.70,394.74 L458.10,394.93 L458.50,394.97 L458.90,394.76 L459.30,394.77 L459.70,395.22 L460.10,395.20 L460.50,395.02 L460.90,395.22 L461.30,395.40 L461.70,395.66 L462.10,395.16 L462.50,395.49 L462.90,395.81 L463.30,395.44 L463.70,395.75 L464.10,394.99 L464.50,395.81 L464.90,395.55 L465.30,395.22 L465.70,395.77 L466.10,395.85 L466.50,395.91 L466.90,395.94 L467.30,395.72 L467.70,395.61 L468.10,395.69 L468.50,395.80 L468.90,395.91 L469.30,395.76 L469.70,395.89 L470.10,396.07 L470.50,395.98 L470.90,396.39 L471.30,396.39 L471.70,395.76 L472.10,395.89 L472.50,395.77 L472.90,395.81 L473.30,396.17 L473.70,395.88 L474.10,395.89 L474.50,396.06 L474.90,396.29 L475.30,396.08 L475.70,396.10 L476.10,396.36 L476.50,396.29 L476.90,396.30 L477.30,396.42 L477.70,396.05 L478.10,396.30 L478.50,396.15 L478.90,396.49 L479.30,396.46 L479.70,396.11 L480.10,396.59 L480.50,396.11 L480.90,396.59 L481.30,396.41 L481.70,396.22 L482.10,396.18 L482.50,396.36 L482.90,396.43 L483.30,396.31 L483.70,396.57 L484.10,396.20 L484.50,396.49 L484.90,396.50 L485.30,396.15 L485.70,396.59 L486.10,396.29 L486.50,396.06 L486.90,396.44 L487.30,396.52 L487.70,396.75 L488.10,396.48 L488.50,396.87 L488.90,396.87 L489.30,396.81 L489.70,396.85 L490.10,396.66 L490.50,396.48 L490.90,396.72 L491.30,396.78 L491.70,396.64 L492.10,396.55 L492.50,396.29 L492.90,396.73 L493.30,396.66 L493.70,396.34 L494.10,396.61 L494.50,396.74 L494.90,396.57 L495.30,396.75 L495.70,396.74 L496.10,396.30 L496.50,396.53 L496.90,396.69 L497.30,396.77 L497.70,396.87 L498.10,396.22 L498.50,396.58 L498.90,396.74 L499.30,396.84 L499.70,396.93 L500.10,396.41 L500.50,396.52 L500.90,396.39 L501.30,396.76 L501.70,396.33 L502.10,396.83 L502.50,396.78 L502.90,396.69 L503.30,396.17 L503.70,396.46 L504.10,396.74 L504.50,396.31 L504.90,396.55 L505.30,396.57 L505.70,396.77 L506.10,396.65 L506.50,396.65 L506.90,396.51 L507.30,396.59 L507.70,396.57 L508.10,396.74 L508.50,396.56 L508.90,396.80 L509.30,396.26 L509.70,396.83 L510.10,396.56 L510.50,396.82 L510.90,396.61 L511.30,396.76 L511.70,396.89 L512.10,396.48 L512.50,396.61 L512.90,396.56 L513.30,396.63 L513.70,396.27 L514.10,396.55 L514.50,396.54 L514.90,396.43 L515.30,396.55 L515.70,396.28 L516.10,396.86 L516.50,396.67 L516.90,396.95 L517.30,396.40 L517.70,396.34 L518.10,396.63 L518.50,396.24 L518.90,396.61 L519.30,396.43 L519.70,396.50 L520.10,396.61 L520.50,396.57 L520.90,396.92 L521.30,396.68 L521.70,396.30 L522.10,396.74 L522.50,396.28 L522.90,396.56 L523.30,396.29 L523.70,396.37 L524.10,396.79 L524.50,396.42 L524.90,396.40 L525.30,396.41 L525.70,396.46 L526.10,396.80 L526.50,396.28 L526.90,396.27 L527.30,396.62 L527.70,396.19 L528.10,396.43 L528.50,396.72 L528.90,396.49 L529.30,396.39 L529.70,396.34 L530.10,396.30 L530.50,396.36 L530.90,396.50 L531.30,396.71 L531.70,396.66 L532.10,396.35 L532.50,396.31 L532.90,396.59 L533.30,396.09 L533.70,396.36 L534.10,396.38 L534.50,396.22 L534.90,396.23 L535.30,396.50 L535.70,396.10 L536.10,396.24 L536.50,396.29 L536.90,396.42 L537.30,396.13 L537.70,396.61" fill="none" stroke="#000" stroke-width="1.7" stroke-linejoin="round" />
<rect x="287.7" y="232.7" width="250.59999999999997" height="179.10000000000002" fill="none" stroke="#000" stroke-width="1.75"/>
<line x1="294.58" y1="411.8" x2="294.58" y2="414.6" stroke="#000" stroke-width="1.5"/>
<line x1="315.50" y1="411.8" x2="315.50" y2="416.5" stroke="#000" stroke-width="1.5"/>
<text x="307.60" y="427.0" font-size="11.0" fill="#000" stroke="#000" stroke-width="0.3" font-weight="bold" textLength="16.39" lengthAdjust="spacingAndGlyphs" >282</text>
<line x1="336.43" y1="411.8" x2="336.43" y2="414.6" stroke="#000" stroke-width="1.5"/>
<line x1="357.35" y1="411.8" x2="357.35" y2="416.5" stroke="#000" stroke-width="1.5"/>
<text x="349.56" y="427.0" font-size="11.0" fill="#000" stroke="#000" stroke-width="0.3" font-weight="bold" textLength="16.13" lengthAdjust="spacingAndGlyphs" >285</text>
<line x1="378.28" y1="411.8" x2="378.28" y2="414.6" stroke="#000" stroke-width="1.5"/>
<line x1="399.20" y1="411.8" x2="399.20" y2="416.5" stroke="#000" stroke-width="1.5"/>
<text x="391.51" y="427.0" font-size="11.0" fill="#000" stroke="#000" stroke-width="0.3" font-weight="bold" textLength="16.13" lengthAdjust="spacingAndGlyphs" >288</text>
<line x1="420.12" y1="411.8" x2="420.12" y2="414.6" stroke="#000" stroke-width="1.5"/>
<line x1="441.05" y1="411.8" x2="441.05" y2="416.5" stroke="#000" stroke-width="1.5"/>
<text x="433.20" y="427.0" font-size="11.0" fill="#000" stroke="#000" stroke-width="0.3" font-weight="bold" textLength="16.39" lengthAdjust="spacingAndGlyphs" >291</text>
<line x1="461.98" y1="411.8" x2="461.98" y2="414.6" stroke="#000" stroke-width="1.5"/>
<line x1="482.90" y1="411.8" x2="482.90" y2="416.5" stroke="#000" stroke-width="1.5"/>
<text x="475.16" y="427.0" font-size="11.0" fill="#000" stroke="#000" stroke-width="0.3" font-weight="bold" textLength="15.88" lengthAdjust="spacingAndGlyphs" >294</text>
<line x1="503.83" y1="411.8" x2="503.83" y2="414.6" stroke="#000" stroke-width="1.5"/>
<line x1="524.75" y1="411.8" x2="524.75" y2="416.5" stroke="#000" stroke-width="1.5"/>
<text x="516.86" y="427.0" font-size="11.0" fill="#000" stroke="#000" stroke-width="0.3" font-weight="bold" textLength="16.13" lengthAdjust="spacingAndGlyphs" >297</text>
<text x="369.01" y="444.2" font-size="10.8" fill="#000" stroke="#000" stroke-width="0.3" font-weight="bold" textLength="89.71" lengthAdjust="spacingAndGlyphs" >Binding energy (eV)</text>
<text x="288.14" y="243.2" font-size="10" fill="#000" stroke="#000" stroke-width="0.3" font-weight="bold" textLength="14.15" lengthAdjust="spacingAndGlyphs" >(d)</text>
<text x="513.49" y="245.2" font-size="14" fill="#000" stroke="#000" stroke-width="0.3" font-weight="bold" textLength="23.64" lengthAdjust="spacingAndGlyphs" >C 1s</text>
<rect x="350.5" y="262.2" width="72.6" height="21.2" fill="none" stroke="#ff7070" stroke-width="0.9"/>
<text x="377.37" y="269.8" font-size="9.2" fill="#f0282a" stroke="#f0282a" stroke-width="0.22" font-weight="bold" textLength="20.36" lengthAdjust="spacingAndGlyphs" >283.6</text>
<text x="351.35" y="281.2" font-size="9.4" fill="#f0282a" stroke="#f0282a" stroke-width="0.22" font-weight="bold" textLength="71.40" lengthAdjust="spacingAndGlyphs" >sp2 C = CC-C/C-H</text>
<line x1="350.00" y1="271.40" x2="342.93" y2="284.44" stroke="#ff0a0a" stroke-width="1.9"/>
<polygon points="339.60,290.60 340.18,282.39 346.16,285.62" fill="#ff0a0a"/>
<rect x="365.1" y="300.6" width="97.9" height="45.7" fill="none" stroke="#7fc0e6" stroke-width="0.9"/>
<text x="402.67" y="308.2" font-size="9.2" fill="#2a88cc" stroke="#2a88cc" stroke-width="0.22" font-weight="bold" textLength="19.95" lengthAdjust="spacingAndGlyphs" >284.2</text>
<text x="368.36" y="320.6" font-size="9.6" fill="#2a88cc" stroke="#2a88cc" stroke-width="0.22" font-weight="bold" textLength="95.32" lengthAdjust="spacingAndGlyphs" >Phenolic hydroxyl group;</text>
<text x="365.32" y="332.8" font-size="9.6" fill="#2a88cc" stroke="#2a88cc" stroke-width="0.22" font-weight="bold" textLength="93.59" lengthAdjust="spacingAndGlyphs" >alcoholic hydroxyl group</text>
<text x="365.32" y="343.8" font-size="9.6" fill="#2a88cc" stroke="#2a88cc" stroke-width="0.22" font-weight="bold" textLength="60.69" lengthAdjust="spacingAndGlyphs" >and ether group</text>
<line x1="364.40" y1="326.60" x2="348.42" y2="361.34" stroke="#1a7cc8" stroke-width="1.9"/>
<polygon points="345.50,367.70 345.54,359.47 351.72,362.31" fill="#1a7cc8"/>
<rect x="374.5" y="360.1" width="38.2" height="20.7" fill="none" stroke="#7cc07c" stroke-width="0.9"/>
<text x="382.79" y="368.1" font-size="9.2" fill="#2a8a2a" stroke="#2a8a2a" stroke-width="0.22" font-weight="bold" textLength="21.81" lengthAdjust="spacingAndGlyphs" >285.5</text>
<text x="375.16" y="379.2" font-size="9.4" fill="#2a8a2a" stroke="#2a8a2a" stroke-width="0.22" font-weight="bold" textLength="36.50" lengthAdjust="spacingAndGlyphs" >sp3 C – C</text>
<line x1="373.40" y1="370.80" x2="367.70" y2="381.88" stroke="#1c7c1c" stroke-width="1.9"/>
<polygon points="364.50,388.10 364.91,379.88 370.95,382.99" fill="#1c7c1c"/>
<rect x="448.4" y="366.5" width="31.8" height="20.4" fill="none" stroke="#f080c0" stroke-width="0.9"/>
<text x="454.27" y="373.4" font-size="9.2" fill="#ee1e8c" stroke="#ee1e8c" stroke-width="0.22" font-weight="bold" textLength="20.26" lengthAdjust="spacingAndGlyphs" >288.9</text>
<text x="450.08" y="385.1" font-size="9.4" fill="#ee1e8c" stroke="#ee1e8c" stroke-width="0.22" font-weight="bold" textLength="30.31" lengthAdjust="spacingAndGlyphs" >-COOH</text>
<line x1="447.30" y1="375.70" x2="423.30" y2="387.34" stroke="#f0168a" stroke-width="1.9"/>
<polygon points="417.00,390.40 422.26,384.07 425.23,390.19" fill="#f0168a"/>
</svg></body></html>
